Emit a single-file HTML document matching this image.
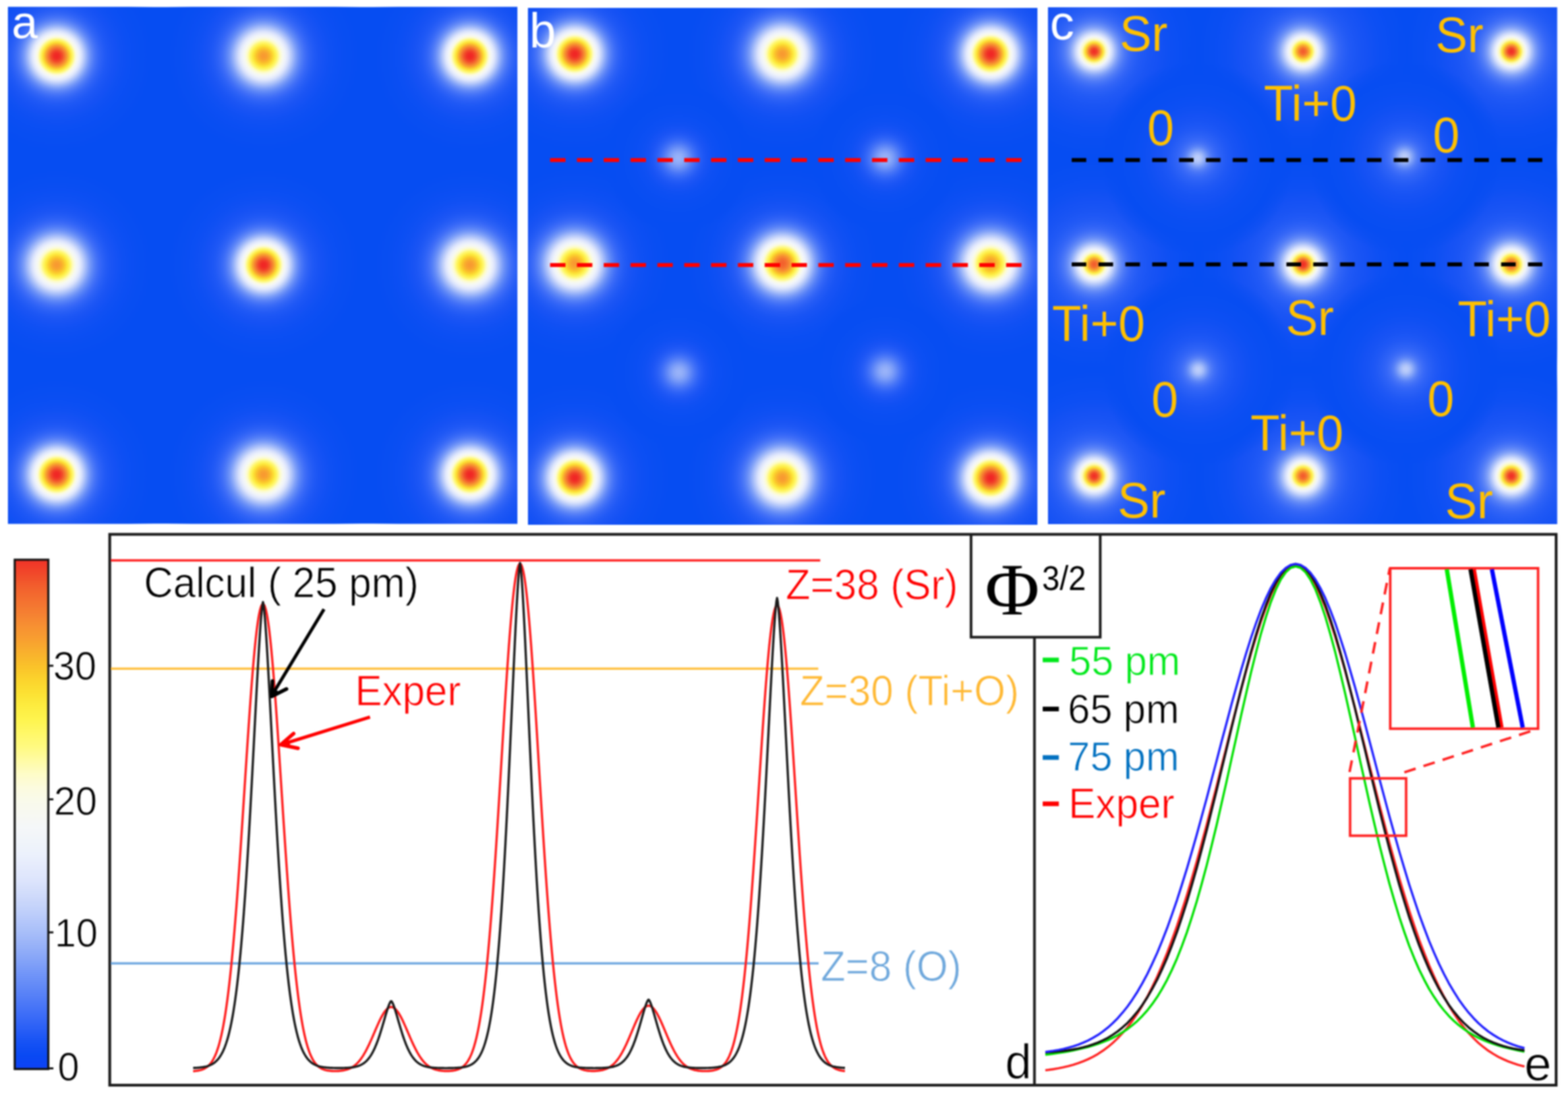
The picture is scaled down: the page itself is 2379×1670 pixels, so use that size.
<!DOCTYPE html>
<html><head><meta charset="utf-8"><title>Figure</title>
<style>html,body{margin:0;padding:0;background:#fff;}svg{display:block;}</style>
</head><body>
<svg width="2379" height="1670" viewBox="0 0 2379 1670"><defs><radialGradient id="g1"><stop offset="0.000" stop-color="#f02424" stop-opacity="1.000"/><stop offset="0.025" stop-color="#f02b26" stop-opacity="1.000"/><stop offset="0.050" stop-color="#f1482a" stop-opacity="1.000"/><stop offset="0.075" stop-color="#f47531" stop-opacity="1.000"/><stop offset="0.100" stop-color="#f8a62f" stop-opacity="1.000"/><stop offset="0.125" stop-color="#fcdf32" stop-opacity="1.000"/><stop offset="0.150" stop-color="#fff973" stop-opacity="1.000"/><stop offset="0.175" stop-color="#fcfbdf" stop-opacity="1.000"/><stop offset="0.200" stop-color="#f2f5fa" stop-opacity="1.000"/><stop offset="0.225" stop-color="#dee6fc" stop-opacity="1.000"/><stop offset="0.250" stop-color="#bccdfa" stop-opacity="1.000"/><stop offset="0.275" stop-color="#97b2f9" stop-opacity="1.000"/><stop offset="0.300" stop-color="#7699f8" stop-opacity="1.000"/><stop offset="0.325" stop-color="#5d85f7" stop-opacity="1.000"/><stop offset="0.350" stop-color="#4976f7" stop-opacity="1.000"/><stop offset="0.375" stop-color="#3a6bf7" stop-opacity="1.000"/><stop offset="0.400" stop-color="#2f63f6" stop-opacity="1.000"/><stop offset="0.425" stop-color="#275df6" stop-opacity="1.000"/><stop offset="0.450" stop-color="#2059f5" stop-opacity="1.000"/><stop offset="0.475" stop-color="#1c56f5" stop-opacity="1.000"/><stop offset="0.500" stop-color="#1954f4" stop-opacity="1.000"/><stop offset="0.525" stop-color="#1652f4" stop-opacity="1.000"/><stop offset="0.550" stop-color="#1451f4" stop-opacity="1.000"/><stop offset="0.575" stop-color="#1151f3" stop-opacity="1.000"/><stop offset="0.600" stop-color="#0f50f3" stop-opacity="1.000"/><stop offset="0.625" stop-color="#0e4ff3" stop-opacity="1.000"/><stop offset="0.650" stop-color="#0c4ff3" stop-opacity="1.000"/><stop offset="0.675" stop-color="#0b4ff3" stop-opacity="1.000"/><stop offset="0.700" stop-color="#0a4ef3" stop-opacity="1.000"/><stop offset="0.725" stop-color="#0a4ef2" stop-opacity="1.000"/><stop offset="0.750" stop-color="#094ef2" stop-opacity="1.000"/><stop offset="0.775" stop-color="#084ef2" stop-opacity="1.000"/><stop offset="0.800" stop-color="#084ef2" stop-opacity="1.000"/><stop offset="0.825" stop-color="#084df2" stop-opacity="0.875"/><stop offset="0.850" stop-color="#074df2" stop-opacity="0.750"/><stop offset="0.875" stop-color="#074df2" stop-opacity="0.625"/><stop offset="0.900" stop-color="#074df2" stop-opacity="0.500"/><stop offset="0.925" stop-color="#074df2" stop-opacity="0.375"/><stop offset="0.950" stop-color="#064df2" stop-opacity="0.250"/><stop offset="0.975" stop-color="#064df2" stop-opacity="0.125"/><stop offset="1.000" stop-color="#064df2" stop-opacity="0.000"/></radialGradient><radialGradient id="g2"><stop offset="0.000" stop-color="#f89831" stop-opacity="1.000"/><stop offset="0.025" stop-color="#f89e30" stop-opacity="1.000"/><stop offset="0.050" stop-color="#f9b02d" stop-opacity="1.000"/><stop offset="0.075" stop-color="#fbcc2c" stop-opacity="1.000"/><stop offset="0.100" stop-color="#fdea3d" stop-opacity="1.000"/><stop offset="0.125" stop-color="#fff86f" stop-opacity="1.000"/><stop offset="0.150" stop-color="#fefcc7" stop-opacity="1.000"/><stop offset="0.175" stop-color="#f7f9f1" stop-opacity="1.000"/><stop offset="0.200" stop-color="#eef2fb" stop-opacity="1.000"/><stop offset="0.225" stop-color="#dbe3fc" stop-opacity="1.000"/><stop offset="0.250" stop-color="#bccdfa" stop-opacity="1.000"/><stop offset="0.275" stop-color="#9db6f9" stop-opacity="1.000"/><stop offset="0.300" stop-color="#7e9ff8" stop-opacity="1.000"/><stop offset="0.325" stop-color="#658cf7" stop-opacity="1.000"/><stop offset="0.350" stop-color="#517df7" stop-opacity="1.000"/><stop offset="0.375" stop-color="#4270f7" stop-opacity="1.000"/><stop offset="0.400" stop-color="#3667f7" stop-opacity="1.000"/><stop offset="0.425" stop-color="#2c61f6" stop-opacity="1.000"/><stop offset="0.450" stop-color="#255cf5" stop-opacity="1.000"/><stop offset="0.475" stop-color="#1f58f5" stop-opacity="1.000"/><stop offset="0.500" stop-color="#1b55f4" stop-opacity="1.000"/><stop offset="0.525" stop-color="#1853f4" stop-opacity="1.000"/><stop offset="0.550" stop-color="#1552f4" stop-opacity="1.000"/><stop offset="0.575" stop-color="#1251f4" stop-opacity="1.000"/><stop offset="0.600" stop-color="#1050f3" stop-opacity="1.000"/><stop offset="0.625" stop-color="#0e50f3" stop-opacity="1.000"/><stop offset="0.650" stop-color="#0d4ff3" stop-opacity="1.000"/><stop offset="0.675" stop-color="#0b4ff3" stop-opacity="1.000"/><stop offset="0.700" stop-color="#0b4ef3" stop-opacity="1.000"/><stop offset="0.725" stop-color="#0a4ef2" stop-opacity="1.000"/><stop offset="0.750" stop-color="#094ef2" stop-opacity="1.000"/><stop offset="0.775" stop-color="#084ef2" stop-opacity="1.000"/><stop offset="0.800" stop-color="#084ef2" stop-opacity="1.000"/><stop offset="0.825" stop-color="#084df2" stop-opacity="0.875"/><stop offset="0.850" stop-color="#074df2" stop-opacity="0.750"/><stop offset="0.875" stop-color="#074df2" stop-opacity="0.625"/><stop offset="0.900" stop-color="#074df2" stop-opacity="0.500"/><stop offset="0.925" stop-color="#074df2" stop-opacity="0.375"/><stop offset="0.950" stop-color="#064df2" stop-opacity="0.250"/><stop offset="0.975" stop-color="#064df2" stop-opacity="0.125"/><stop offset="1.000" stop-color="#064df2" stop-opacity="0.000"/></radialGradient><radialGradient id="g3"><stop offset="0.000" stop-color="#f02424" stop-opacity="1.000"/><stop offset="0.025" stop-color="#f02b26" stop-opacity="1.000"/><stop offset="0.050" stop-color="#f1482a" stop-opacity="1.000"/><stop offset="0.075" stop-color="#f47531" stop-opacity="1.000"/><stop offset="0.100" stop-color="#f8a62f" stop-opacity="1.000"/><stop offset="0.125" stop-color="#fcdf32" stop-opacity="1.000"/><stop offset="0.150" stop-color="#fff973" stop-opacity="1.000"/><stop offset="0.175" stop-color="#fcfbdf" stop-opacity="1.000"/><stop offset="0.200" stop-color="#f2f5fa" stop-opacity="1.000"/><stop offset="0.225" stop-color="#dee6fc" stop-opacity="1.000"/><stop offset="0.250" stop-color="#bccdfa" stop-opacity="1.000"/><stop offset="0.275" stop-color="#97b2f9" stop-opacity="1.000"/><stop offset="0.300" stop-color="#7699f8" stop-opacity="1.000"/><stop offset="0.325" stop-color="#5d85f7" stop-opacity="1.000"/><stop offset="0.350" stop-color="#4976f7" stop-opacity="1.000"/><stop offset="0.375" stop-color="#3a6bf7" stop-opacity="1.000"/><stop offset="0.400" stop-color="#2f63f6" stop-opacity="1.000"/><stop offset="0.425" stop-color="#275df6" stop-opacity="1.000"/><stop offset="0.450" stop-color="#2059f5" stop-opacity="1.000"/><stop offset="0.475" stop-color="#1c56f5" stop-opacity="1.000"/><stop offset="0.500" stop-color="#1954f4" stop-opacity="1.000"/><stop offset="0.525" stop-color="#1652f4" stop-opacity="1.000"/><stop offset="0.550" stop-color="#1451f4" stop-opacity="1.000"/><stop offset="0.575" stop-color="#1151f3" stop-opacity="1.000"/><stop offset="0.600" stop-color="#0f50f3" stop-opacity="1.000"/><stop offset="0.625" stop-color="#0e4ff3" stop-opacity="1.000"/><stop offset="0.650" stop-color="#0c4ff3" stop-opacity="1.000"/><stop offset="0.675" stop-color="#0b4ff3" stop-opacity="1.000"/><stop offset="0.700" stop-color="#0a4ef3" stop-opacity="1.000"/><stop offset="0.725" stop-color="#0a4ef2" stop-opacity="1.000"/><stop offset="0.750" stop-color="#094ef2" stop-opacity="1.000"/><stop offset="0.775" stop-color="#084ef2" stop-opacity="1.000"/><stop offset="0.800" stop-color="#084ef2" stop-opacity="1.000"/><stop offset="0.825" stop-color="#084df2" stop-opacity="0.875"/><stop offset="0.850" stop-color="#074df2" stop-opacity="0.750"/><stop offset="0.875" stop-color="#074df2" stop-opacity="0.625"/><stop offset="0.900" stop-color="#074df2" stop-opacity="0.500"/><stop offset="0.925" stop-color="#074df2" stop-opacity="0.375"/><stop offset="0.950" stop-color="#064df2" stop-opacity="0.250"/><stop offset="0.975" stop-color="#064df2" stop-opacity="0.125"/><stop offset="1.000" stop-color="#064df2" stop-opacity="0.000"/></radialGradient><radialGradient id="g4"><stop offset="0.000" stop-color="#f89831" stop-opacity="1.000"/><stop offset="0.025" stop-color="#f89e30" stop-opacity="1.000"/><stop offset="0.050" stop-color="#f9b02d" stop-opacity="1.000"/><stop offset="0.075" stop-color="#fbcc2c" stop-opacity="1.000"/><stop offset="0.100" stop-color="#fdea3d" stop-opacity="1.000"/><stop offset="0.125" stop-color="#fff86f" stop-opacity="1.000"/><stop offset="0.150" stop-color="#fefcc7" stop-opacity="1.000"/><stop offset="0.175" stop-color="#f7f9f1" stop-opacity="1.000"/><stop offset="0.200" stop-color="#eef2fb" stop-opacity="1.000"/><stop offset="0.225" stop-color="#dbe3fc" stop-opacity="1.000"/><stop offset="0.250" stop-color="#bccdfa" stop-opacity="1.000"/><stop offset="0.275" stop-color="#9db6f9" stop-opacity="1.000"/><stop offset="0.300" stop-color="#7e9ff8" stop-opacity="1.000"/><stop offset="0.325" stop-color="#658cf7" stop-opacity="1.000"/><stop offset="0.350" stop-color="#517df7" stop-opacity="1.000"/><stop offset="0.375" stop-color="#4270f7" stop-opacity="1.000"/><stop offset="0.400" stop-color="#3667f7" stop-opacity="1.000"/><stop offset="0.425" stop-color="#2c61f6" stop-opacity="1.000"/><stop offset="0.450" stop-color="#255cf5" stop-opacity="1.000"/><stop offset="0.475" stop-color="#1f58f5" stop-opacity="1.000"/><stop offset="0.500" stop-color="#1b55f4" stop-opacity="1.000"/><stop offset="0.525" stop-color="#1853f4" stop-opacity="1.000"/><stop offset="0.550" stop-color="#1552f4" stop-opacity="1.000"/><stop offset="0.575" stop-color="#1251f4" stop-opacity="1.000"/><stop offset="0.600" stop-color="#1050f3" stop-opacity="1.000"/><stop offset="0.625" stop-color="#0e50f3" stop-opacity="1.000"/><stop offset="0.650" stop-color="#0d4ff3" stop-opacity="1.000"/><stop offset="0.675" stop-color="#0b4ff3" stop-opacity="1.000"/><stop offset="0.700" stop-color="#0b4ef3" stop-opacity="1.000"/><stop offset="0.725" stop-color="#0a4ef2" stop-opacity="1.000"/><stop offset="0.750" stop-color="#094ef2" stop-opacity="1.000"/><stop offset="0.775" stop-color="#084ef2" stop-opacity="1.000"/><stop offset="0.800" stop-color="#084ef2" stop-opacity="1.000"/><stop offset="0.825" stop-color="#084df2" stop-opacity="0.875"/><stop offset="0.850" stop-color="#074df2" stop-opacity="0.750"/><stop offset="0.875" stop-color="#074df2" stop-opacity="0.625"/><stop offset="0.900" stop-color="#074df2" stop-opacity="0.500"/><stop offset="0.925" stop-color="#074df2" stop-opacity="0.375"/><stop offset="0.950" stop-color="#064df2" stop-opacity="0.250"/><stop offset="0.975" stop-color="#064df2" stop-opacity="0.125"/><stop offset="1.000" stop-color="#064df2" stop-opacity="0.000"/></radialGradient><radialGradient id="g5"><stop offset="0.000" stop-color="#f02424" stop-opacity="1.000"/><stop offset="0.025" stop-color="#f02b26" stop-opacity="1.000"/><stop offset="0.050" stop-color="#f1482a" stop-opacity="1.000"/><stop offset="0.075" stop-color="#f47531" stop-opacity="1.000"/><stop offset="0.100" stop-color="#f8a62f" stop-opacity="1.000"/><stop offset="0.125" stop-color="#fcdf32" stop-opacity="1.000"/><stop offset="0.150" stop-color="#fff973" stop-opacity="1.000"/><stop offset="0.175" stop-color="#fcfbdf" stop-opacity="1.000"/><stop offset="0.200" stop-color="#f2f5fa" stop-opacity="1.000"/><stop offset="0.225" stop-color="#dee6fc" stop-opacity="1.000"/><stop offset="0.250" stop-color="#bccdfa" stop-opacity="1.000"/><stop offset="0.275" stop-color="#97b2f9" stop-opacity="1.000"/><stop offset="0.300" stop-color="#7699f8" stop-opacity="1.000"/><stop offset="0.325" stop-color="#5d85f7" stop-opacity="1.000"/><stop offset="0.350" stop-color="#4976f7" stop-opacity="1.000"/><stop offset="0.375" stop-color="#3a6bf7" stop-opacity="1.000"/><stop offset="0.400" stop-color="#2f63f6" stop-opacity="1.000"/><stop offset="0.425" stop-color="#275df6" stop-opacity="1.000"/><stop offset="0.450" stop-color="#2059f5" stop-opacity="1.000"/><stop offset="0.475" stop-color="#1c56f5" stop-opacity="1.000"/><stop offset="0.500" stop-color="#1954f4" stop-opacity="1.000"/><stop offset="0.525" stop-color="#1652f4" stop-opacity="1.000"/><stop offset="0.550" stop-color="#1451f4" stop-opacity="1.000"/><stop offset="0.575" stop-color="#1151f3" stop-opacity="1.000"/><stop offset="0.600" stop-color="#0f50f3" stop-opacity="1.000"/><stop offset="0.625" stop-color="#0e4ff3" stop-opacity="1.000"/><stop offset="0.650" stop-color="#0c4ff3" stop-opacity="1.000"/><stop offset="0.675" stop-color="#0b4ff3" stop-opacity="1.000"/><stop offset="0.700" stop-color="#0a4ef3" stop-opacity="1.000"/><stop offset="0.725" stop-color="#0a4ef2" stop-opacity="1.000"/><stop offset="0.750" stop-color="#094ef2" stop-opacity="1.000"/><stop offset="0.775" stop-color="#084ef2" stop-opacity="1.000"/><stop offset="0.800" stop-color="#084ef2" stop-opacity="1.000"/><stop offset="0.825" stop-color="#084df2" stop-opacity="0.875"/><stop offset="0.850" stop-color="#074df2" stop-opacity="0.750"/><stop offset="0.875" stop-color="#074df2" stop-opacity="0.625"/><stop offset="0.900" stop-color="#074df2" stop-opacity="0.500"/><stop offset="0.925" stop-color="#074df2" stop-opacity="0.375"/><stop offset="0.950" stop-color="#064df2" stop-opacity="0.250"/><stop offset="0.975" stop-color="#064df2" stop-opacity="0.125"/><stop offset="1.000" stop-color="#064df2" stop-opacity="0.000"/></radialGradient><radialGradient id="g6"><stop offset="0.000" stop-color="#f89831" stop-opacity="1.000"/><stop offset="0.025" stop-color="#f89e30" stop-opacity="1.000"/><stop offset="0.050" stop-color="#f9b02d" stop-opacity="1.000"/><stop offset="0.075" stop-color="#fbcc2c" stop-opacity="1.000"/><stop offset="0.100" stop-color="#fdea3d" stop-opacity="1.000"/><stop offset="0.125" stop-color="#fff86f" stop-opacity="1.000"/><stop offset="0.150" stop-color="#fefcc7" stop-opacity="1.000"/><stop offset="0.175" stop-color="#f7f9f1" stop-opacity="1.000"/><stop offset="0.200" stop-color="#eef2fb" stop-opacity="1.000"/><stop offset="0.225" stop-color="#dbe3fc" stop-opacity="1.000"/><stop offset="0.250" stop-color="#bccdfa" stop-opacity="1.000"/><stop offset="0.275" stop-color="#9db6f9" stop-opacity="1.000"/><stop offset="0.300" stop-color="#7e9ff8" stop-opacity="1.000"/><stop offset="0.325" stop-color="#658cf7" stop-opacity="1.000"/><stop offset="0.350" stop-color="#517df7" stop-opacity="1.000"/><stop offset="0.375" stop-color="#4270f7" stop-opacity="1.000"/><stop offset="0.400" stop-color="#3667f7" stop-opacity="1.000"/><stop offset="0.425" stop-color="#2c61f6" stop-opacity="1.000"/><stop offset="0.450" stop-color="#255cf5" stop-opacity="1.000"/><stop offset="0.475" stop-color="#1f58f5" stop-opacity="1.000"/><stop offset="0.500" stop-color="#1b55f4" stop-opacity="1.000"/><stop offset="0.525" stop-color="#1853f4" stop-opacity="1.000"/><stop offset="0.550" stop-color="#1552f4" stop-opacity="1.000"/><stop offset="0.575" stop-color="#1251f4" stop-opacity="1.000"/><stop offset="0.600" stop-color="#1050f3" stop-opacity="1.000"/><stop offset="0.625" stop-color="#0e50f3" stop-opacity="1.000"/><stop offset="0.650" stop-color="#0d4ff3" stop-opacity="1.000"/><stop offset="0.675" stop-color="#0b4ff3" stop-opacity="1.000"/><stop offset="0.700" stop-color="#0b4ef3" stop-opacity="1.000"/><stop offset="0.725" stop-color="#0a4ef2" stop-opacity="1.000"/><stop offset="0.750" stop-color="#094ef2" stop-opacity="1.000"/><stop offset="0.775" stop-color="#084ef2" stop-opacity="1.000"/><stop offset="0.800" stop-color="#084ef2" stop-opacity="1.000"/><stop offset="0.825" stop-color="#084df2" stop-opacity="0.875"/><stop offset="0.850" stop-color="#074df2" stop-opacity="0.750"/><stop offset="0.875" stop-color="#074df2" stop-opacity="0.625"/><stop offset="0.900" stop-color="#074df2" stop-opacity="0.500"/><stop offset="0.925" stop-color="#074df2" stop-opacity="0.375"/><stop offset="0.950" stop-color="#064df2" stop-opacity="0.250"/><stop offset="0.975" stop-color="#064df2" stop-opacity="0.125"/><stop offset="1.000" stop-color="#064df2" stop-opacity="0.000"/></radialGradient><radialGradient id="g7"><stop offset="0.000" stop-color="#f02424" stop-opacity="1.000"/><stop offset="0.025" stop-color="#f02b26" stop-opacity="1.000"/><stop offset="0.050" stop-color="#f1482a" stop-opacity="1.000"/><stop offset="0.075" stop-color="#f47531" stop-opacity="1.000"/><stop offset="0.100" stop-color="#f8a62f" stop-opacity="1.000"/><stop offset="0.125" stop-color="#fcdf32" stop-opacity="1.000"/><stop offset="0.150" stop-color="#fff973" stop-opacity="1.000"/><stop offset="0.175" stop-color="#fcfbdf" stop-opacity="1.000"/><stop offset="0.200" stop-color="#f2f5fa" stop-opacity="1.000"/><stop offset="0.225" stop-color="#dee6fc" stop-opacity="1.000"/><stop offset="0.250" stop-color="#bccdfa" stop-opacity="1.000"/><stop offset="0.275" stop-color="#97b2f9" stop-opacity="1.000"/><stop offset="0.300" stop-color="#7699f8" stop-opacity="1.000"/><stop offset="0.325" stop-color="#5d85f7" stop-opacity="1.000"/><stop offset="0.350" stop-color="#4976f7" stop-opacity="1.000"/><stop offset="0.375" stop-color="#3a6bf7" stop-opacity="1.000"/><stop offset="0.400" stop-color="#2f63f6" stop-opacity="1.000"/><stop offset="0.425" stop-color="#275df6" stop-opacity="1.000"/><stop offset="0.450" stop-color="#2059f5" stop-opacity="1.000"/><stop offset="0.475" stop-color="#1c56f5" stop-opacity="1.000"/><stop offset="0.500" stop-color="#1954f4" stop-opacity="1.000"/><stop offset="0.525" stop-color="#1652f4" stop-opacity="1.000"/><stop offset="0.550" stop-color="#1451f4" stop-opacity="1.000"/><stop offset="0.575" stop-color="#1151f3" stop-opacity="1.000"/><stop offset="0.600" stop-color="#0f50f3" stop-opacity="1.000"/><stop offset="0.625" stop-color="#0e4ff3" stop-opacity="1.000"/><stop offset="0.650" stop-color="#0c4ff3" stop-opacity="1.000"/><stop offset="0.675" stop-color="#0b4ff3" stop-opacity="1.000"/><stop offset="0.700" stop-color="#0a4ef3" stop-opacity="1.000"/><stop offset="0.725" stop-color="#0a4ef2" stop-opacity="1.000"/><stop offset="0.750" stop-color="#094ef2" stop-opacity="1.000"/><stop offset="0.775" stop-color="#084ef2" stop-opacity="1.000"/><stop offset="0.800" stop-color="#084ef2" stop-opacity="1.000"/><stop offset="0.825" stop-color="#084df2" stop-opacity="0.875"/><stop offset="0.850" stop-color="#074df2" stop-opacity="0.750"/><stop offset="0.875" stop-color="#074df2" stop-opacity="0.625"/><stop offset="0.900" stop-color="#074df2" stop-opacity="0.500"/><stop offset="0.925" stop-color="#074df2" stop-opacity="0.375"/><stop offset="0.950" stop-color="#064df2" stop-opacity="0.250"/><stop offset="0.975" stop-color="#064df2" stop-opacity="0.125"/><stop offset="1.000" stop-color="#064df2" stop-opacity="0.000"/></radialGradient><radialGradient id="g8"><stop offset="0.000" stop-color="#f89831" stop-opacity="1.000"/><stop offset="0.025" stop-color="#f89e30" stop-opacity="1.000"/><stop offset="0.050" stop-color="#f9b02d" stop-opacity="1.000"/><stop offset="0.075" stop-color="#fbcc2c" stop-opacity="1.000"/><stop offset="0.100" stop-color="#fdea3d" stop-opacity="1.000"/><stop offset="0.125" stop-color="#fff86f" stop-opacity="1.000"/><stop offset="0.150" stop-color="#fefcc7" stop-opacity="1.000"/><stop offset="0.175" stop-color="#f7f9f1" stop-opacity="1.000"/><stop offset="0.200" stop-color="#eef2fb" stop-opacity="1.000"/><stop offset="0.225" stop-color="#dbe3fc" stop-opacity="1.000"/><stop offset="0.250" stop-color="#bccdfa" stop-opacity="1.000"/><stop offset="0.275" stop-color="#9db6f9" stop-opacity="1.000"/><stop offset="0.300" stop-color="#7e9ff8" stop-opacity="1.000"/><stop offset="0.325" stop-color="#658cf7" stop-opacity="1.000"/><stop offset="0.350" stop-color="#517df7" stop-opacity="1.000"/><stop offset="0.375" stop-color="#4270f7" stop-opacity="1.000"/><stop offset="0.400" stop-color="#3667f7" stop-opacity="1.000"/><stop offset="0.425" stop-color="#2c61f6" stop-opacity="1.000"/><stop offset="0.450" stop-color="#255cf5" stop-opacity="1.000"/><stop offset="0.475" stop-color="#1f58f5" stop-opacity="1.000"/><stop offset="0.500" stop-color="#1b55f4" stop-opacity="1.000"/><stop offset="0.525" stop-color="#1853f4" stop-opacity="1.000"/><stop offset="0.550" stop-color="#1552f4" stop-opacity="1.000"/><stop offset="0.575" stop-color="#1251f4" stop-opacity="1.000"/><stop offset="0.600" stop-color="#1050f3" stop-opacity="1.000"/><stop offset="0.625" stop-color="#0e50f3" stop-opacity="1.000"/><stop offset="0.650" stop-color="#0d4ff3" stop-opacity="1.000"/><stop offset="0.675" stop-color="#0b4ff3" stop-opacity="1.000"/><stop offset="0.700" stop-color="#0b4ef3" stop-opacity="1.000"/><stop offset="0.725" stop-color="#0a4ef2" stop-opacity="1.000"/><stop offset="0.750" stop-color="#094ef2" stop-opacity="1.000"/><stop offset="0.775" stop-color="#084ef2" stop-opacity="1.000"/><stop offset="0.800" stop-color="#084ef2" stop-opacity="1.000"/><stop offset="0.825" stop-color="#084df2" stop-opacity="0.875"/><stop offset="0.850" stop-color="#074df2" stop-opacity="0.750"/><stop offset="0.875" stop-color="#074df2" stop-opacity="0.625"/><stop offset="0.900" stop-color="#074df2" stop-opacity="0.500"/><stop offset="0.925" stop-color="#074df2" stop-opacity="0.375"/><stop offset="0.950" stop-color="#064df2" stop-opacity="0.250"/><stop offset="0.975" stop-color="#064df2" stop-opacity="0.125"/><stop offset="1.000" stop-color="#064df2" stop-opacity="0.000"/></radialGradient><radialGradient id="g9"><stop offset="0.000" stop-color="#f02424" stop-opacity="1.000"/><stop offset="0.025" stop-color="#f02b26" stop-opacity="1.000"/><stop offset="0.050" stop-color="#f1482a" stop-opacity="1.000"/><stop offset="0.075" stop-color="#f47531" stop-opacity="1.000"/><stop offset="0.100" stop-color="#f8a62f" stop-opacity="1.000"/><stop offset="0.125" stop-color="#fcdf32" stop-opacity="1.000"/><stop offset="0.150" stop-color="#fff973" stop-opacity="1.000"/><stop offset="0.175" stop-color="#fcfbdf" stop-opacity="1.000"/><stop offset="0.200" stop-color="#f2f5fa" stop-opacity="1.000"/><stop offset="0.225" stop-color="#dee6fc" stop-opacity="1.000"/><stop offset="0.250" stop-color="#bccdfa" stop-opacity="1.000"/><stop offset="0.275" stop-color="#97b2f9" stop-opacity="1.000"/><stop offset="0.300" stop-color="#7699f8" stop-opacity="1.000"/><stop offset="0.325" stop-color="#5d85f7" stop-opacity="1.000"/><stop offset="0.350" stop-color="#4976f7" stop-opacity="1.000"/><stop offset="0.375" stop-color="#3a6bf7" stop-opacity="1.000"/><stop offset="0.400" stop-color="#2f63f6" stop-opacity="1.000"/><stop offset="0.425" stop-color="#275df6" stop-opacity="1.000"/><stop offset="0.450" stop-color="#2059f5" stop-opacity="1.000"/><stop offset="0.475" stop-color="#1c56f5" stop-opacity="1.000"/><stop offset="0.500" stop-color="#1954f4" stop-opacity="1.000"/><stop offset="0.525" stop-color="#1652f4" stop-opacity="1.000"/><stop offset="0.550" stop-color="#1451f4" stop-opacity="1.000"/><stop offset="0.575" stop-color="#1151f3" stop-opacity="1.000"/><stop offset="0.600" stop-color="#0f50f3" stop-opacity="1.000"/><stop offset="0.625" stop-color="#0e4ff3" stop-opacity="1.000"/><stop offset="0.650" stop-color="#0c4ff3" stop-opacity="1.000"/><stop offset="0.675" stop-color="#0b4ff3" stop-opacity="1.000"/><stop offset="0.700" stop-color="#0a4ef3" stop-opacity="1.000"/><stop offset="0.725" stop-color="#0a4ef2" stop-opacity="1.000"/><stop offset="0.750" stop-color="#094ef2" stop-opacity="1.000"/><stop offset="0.775" stop-color="#084ef2" stop-opacity="1.000"/><stop offset="0.800" stop-color="#084ef2" stop-opacity="1.000"/><stop offset="0.825" stop-color="#084df2" stop-opacity="0.875"/><stop offset="0.850" stop-color="#074df2" stop-opacity="0.750"/><stop offset="0.875" stop-color="#074df2" stop-opacity="0.625"/><stop offset="0.900" stop-color="#074df2" stop-opacity="0.500"/><stop offset="0.925" stop-color="#074df2" stop-opacity="0.375"/><stop offset="0.950" stop-color="#064df2" stop-opacity="0.250"/><stop offset="0.975" stop-color="#064df2" stop-opacity="0.125"/><stop offset="1.000" stop-color="#064df2" stop-opacity="0.000"/></radialGradient><radialGradient id="g10"><stop offset="0.000" stop-color="#f02424" stop-opacity="1.000"/><stop offset="0.025" stop-color="#f02b26" stop-opacity="1.000"/><stop offset="0.050" stop-color="#f1482a" stop-opacity="1.000"/><stop offset="0.075" stop-color="#f47531" stop-opacity="1.000"/><stop offset="0.100" stop-color="#f8a62f" stop-opacity="1.000"/><stop offset="0.125" stop-color="#fcdf32" stop-opacity="1.000"/><stop offset="0.150" stop-color="#fff973" stop-opacity="1.000"/><stop offset="0.175" stop-color="#fcfbdf" stop-opacity="1.000"/><stop offset="0.200" stop-color="#f2f5fa" stop-opacity="1.000"/><stop offset="0.225" stop-color="#dee6fc" stop-opacity="1.000"/><stop offset="0.250" stop-color="#bccdfa" stop-opacity="1.000"/><stop offset="0.275" stop-color="#97b2f9" stop-opacity="1.000"/><stop offset="0.300" stop-color="#7699f8" stop-opacity="1.000"/><stop offset="0.325" stop-color="#5d85f7" stop-opacity="1.000"/><stop offset="0.350" stop-color="#4976f7" stop-opacity="1.000"/><stop offset="0.375" stop-color="#3a6bf7" stop-opacity="1.000"/><stop offset="0.400" stop-color="#2f63f6" stop-opacity="1.000"/><stop offset="0.425" stop-color="#275df6" stop-opacity="1.000"/><stop offset="0.450" stop-color="#2059f5" stop-opacity="1.000"/><stop offset="0.475" stop-color="#1c56f5" stop-opacity="1.000"/><stop offset="0.500" stop-color="#1954f4" stop-opacity="1.000"/><stop offset="0.525" stop-color="#1652f4" stop-opacity="1.000"/><stop offset="0.550" stop-color="#1451f4" stop-opacity="1.000"/><stop offset="0.575" stop-color="#1151f3" stop-opacity="1.000"/><stop offset="0.600" stop-color="#0f50f3" stop-opacity="1.000"/><stop offset="0.625" stop-color="#0e4ff3" stop-opacity="1.000"/><stop offset="0.650" stop-color="#0c4ff3" stop-opacity="1.000"/><stop offset="0.675" stop-color="#0b4ff3" stop-opacity="1.000"/><stop offset="0.700" stop-color="#0a4ef3" stop-opacity="1.000"/><stop offset="0.725" stop-color="#0a4ef2" stop-opacity="1.000"/><stop offset="0.750" stop-color="#094ef2" stop-opacity="1.000"/><stop offset="0.775" stop-color="#084ef2" stop-opacity="1.000"/><stop offset="0.800" stop-color="#084ef2" stop-opacity="1.000"/><stop offset="0.825" stop-color="#084df2" stop-opacity="0.875"/><stop offset="0.850" stop-color="#074df2" stop-opacity="0.750"/><stop offset="0.875" stop-color="#074df2" stop-opacity="0.625"/><stop offset="0.900" stop-color="#074df2" stop-opacity="0.500"/><stop offset="0.925" stop-color="#074df2" stop-opacity="0.375"/><stop offset="0.950" stop-color="#064df2" stop-opacity="0.250"/><stop offset="0.975" stop-color="#064df2" stop-opacity="0.125"/><stop offset="1.000" stop-color="#064df2" stop-opacity="0.000"/></radialGradient><radialGradient id="g11"><stop offset="0.000" stop-color="#f89831" stop-opacity="1.000"/><stop offset="0.025" stop-color="#f89e30" stop-opacity="1.000"/><stop offset="0.050" stop-color="#f9b02d" stop-opacity="1.000"/><stop offset="0.075" stop-color="#fbcc2c" stop-opacity="1.000"/><stop offset="0.100" stop-color="#fdea3d" stop-opacity="1.000"/><stop offset="0.125" stop-color="#fff86f" stop-opacity="1.000"/><stop offset="0.150" stop-color="#fefcc7" stop-opacity="1.000"/><stop offset="0.175" stop-color="#f7f9f1" stop-opacity="1.000"/><stop offset="0.200" stop-color="#eef2fb" stop-opacity="1.000"/><stop offset="0.225" stop-color="#dbe3fc" stop-opacity="1.000"/><stop offset="0.250" stop-color="#bccdfa" stop-opacity="1.000"/><stop offset="0.275" stop-color="#9db6f9" stop-opacity="1.000"/><stop offset="0.300" stop-color="#7e9ff8" stop-opacity="1.000"/><stop offset="0.325" stop-color="#658cf7" stop-opacity="1.000"/><stop offset="0.350" stop-color="#517df7" stop-opacity="1.000"/><stop offset="0.375" stop-color="#4270f7" stop-opacity="1.000"/><stop offset="0.400" stop-color="#3667f7" stop-opacity="1.000"/><stop offset="0.425" stop-color="#2c61f6" stop-opacity="1.000"/><stop offset="0.450" stop-color="#255cf5" stop-opacity="1.000"/><stop offset="0.475" stop-color="#1f58f5" stop-opacity="1.000"/><stop offset="0.500" stop-color="#1b55f4" stop-opacity="1.000"/><stop offset="0.525" stop-color="#1853f4" stop-opacity="1.000"/><stop offset="0.550" stop-color="#1552f4" stop-opacity="1.000"/><stop offset="0.575" stop-color="#1251f4" stop-opacity="1.000"/><stop offset="0.600" stop-color="#1050f3" stop-opacity="1.000"/><stop offset="0.625" stop-color="#0e50f3" stop-opacity="1.000"/><stop offset="0.650" stop-color="#0d4ff3" stop-opacity="1.000"/><stop offset="0.675" stop-color="#0b4ff3" stop-opacity="1.000"/><stop offset="0.700" stop-color="#0b4ef3" stop-opacity="1.000"/><stop offset="0.725" stop-color="#0a4ef2" stop-opacity="1.000"/><stop offset="0.750" stop-color="#094ef2" stop-opacity="1.000"/><stop offset="0.775" stop-color="#084ef2" stop-opacity="1.000"/><stop offset="0.800" stop-color="#084ef2" stop-opacity="1.000"/><stop offset="0.825" stop-color="#084df2" stop-opacity="0.875"/><stop offset="0.850" stop-color="#074df2" stop-opacity="0.750"/><stop offset="0.875" stop-color="#074df2" stop-opacity="0.625"/><stop offset="0.900" stop-color="#074df2" stop-opacity="0.500"/><stop offset="0.925" stop-color="#074df2" stop-opacity="0.375"/><stop offset="0.950" stop-color="#064df2" stop-opacity="0.250"/><stop offset="0.975" stop-color="#064df2" stop-opacity="0.125"/><stop offset="1.000" stop-color="#064df2" stop-opacity="0.000"/></radialGradient><radialGradient id="g12"><stop offset="0.000" stop-color="#f02424" stop-opacity="1.000"/><stop offset="0.025" stop-color="#f02b26" stop-opacity="1.000"/><stop offset="0.050" stop-color="#f1482a" stop-opacity="1.000"/><stop offset="0.075" stop-color="#f47531" stop-opacity="1.000"/><stop offset="0.100" stop-color="#f8a62f" stop-opacity="1.000"/><stop offset="0.125" stop-color="#fcdf32" stop-opacity="1.000"/><stop offset="0.150" stop-color="#fff973" stop-opacity="1.000"/><stop offset="0.175" stop-color="#fcfbdf" stop-opacity="1.000"/><stop offset="0.200" stop-color="#f2f5fa" stop-opacity="1.000"/><stop offset="0.225" stop-color="#dee6fc" stop-opacity="1.000"/><stop offset="0.250" stop-color="#bccdfa" stop-opacity="1.000"/><stop offset="0.275" stop-color="#97b2f9" stop-opacity="1.000"/><stop offset="0.300" stop-color="#7699f8" stop-opacity="1.000"/><stop offset="0.325" stop-color="#5d85f7" stop-opacity="1.000"/><stop offset="0.350" stop-color="#4976f7" stop-opacity="1.000"/><stop offset="0.375" stop-color="#3a6bf7" stop-opacity="1.000"/><stop offset="0.400" stop-color="#2f63f6" stop-opacity="1.000"/><stop offset="0.425" stop-color="#275df6" stop-opacity="1.000"/><stop offset="0.450" stop-color="#2059f5" stop-opacity="1.000"/><stop offset="0.475" stop-color="#1c56f5" stop-opacity="1.000"/><stop offset="0.500" stop-color="#1954f4" stop-opacity="1.000"/><stop offset="0.525" stop-color="#1652f4" stop-opacity="1.000"/><stop offset="0.550" stop-color="#1451f4" stop-opacity="1.000"/><stop offset="0.575" stop-color="#1151f3" stop-opacity="1.000"/><stop offset="0.600" stop-color="#0f50f3" stop-opacity="1.000"/><stop offset="0.625" stop-color="#0e4ff3" stop-opacity="1.000"/><stop offset="0.650" stop-color="#0c4ff3" stop-opacity="1.000"/><stop offset="0.675" stop-color="#0b4ff3" stop-opacity="1.000"/><stop offset="0.700" stop-color="#0a4ef3" stop-opacity="1.000"/><stop offset="0.725" stop-color="#0a4ef2" stop-opacity="1.000"/><stop offset="0.750" stop-color="#094ef2" stop-opacity="1.000"/><stop offset="0.775" stop-color="#084ef2" stop-opacity="1.000"/><stop offset="0.800" stop-color="#084ef2" stop-opacity="1.000"/><stop offset="0.825" stop-color="#084df2" stop-opacity="0.875"/><stop offset="0.850" stop-color="#074df2" stop-opacity="0.750"/><stop offset="0.875" stop-color="#074df2" stop-opacity="0.625"/><stop offset="0.900" stop-color="#074df2" stop-opacity="0.500"/><stop offset="0.925" stop-color="#074df2" stop-opacity="0.375"/><stop offset="0.950" stop-color="#064df2" stop-opacity="0.250"/><stop offset="0.975" stop-color="#064df2" stop-opacity="0.125"/><stop offset="1.000" stop-color="#064df2" stop-opacity="0.000"/></radialGradient><radialGradient id="g13"><stop offset="0.000" stop-color="#f89831" stop-opacity="1.000"/><stop offset="0.025" stop-color="#f89e30" stop-opacity="1.000"/><stop offset="0.050" stop-color="#f9b02d" stop-opacity="1.000"/><stop offset="0.075" stop-color="#fbcc2c" stop-opacity="1.000"/><stop offset="0.100" stop-color="#fdea3d" stop-opacity="1.000"/><stop offset="0.125" stop-color="#fff86f" stop-opacity="1.000"/><stop offset="0.150" stop-color="#fefcc7" stop-opacity="1.000"/><stop offset="0.175" stop-color="#f7f9f1" stop-opacity="1.000"/><stop offset="0.200" stop-color="#eef2fb" stop-opacity="1.000"/><stop offset="0.225" stop-color="#dbe3fc" stop-opacity="1.000"/><stop offset="0.250" stop-color="#bccdfa" stop-opacity="1.000"/><stop offset="0.275" stop-color="#9db6f9" stop-opacity="1.000"/><stop offset="0.300" stop-color="#7e9ff8" stop-opacity="1.000"/><stop offset="0.325" stop-color="#658cf7" stop-opacity="1.000"/><stop offset="0.350" stop-color="#517df7" stop-opacity="1.000"/><stop offset="0.375" stop-color="#4270f7" stop-opacity="1.000"/><stop offset="0.400" stop-color="#3667f7" stop-opacity="1.000"/><stop offset="0.425" stop-color="#2c61f6" stop-opacity="1.000"/><stop offset="0.450" stop-color="#255cf5" stop-opacity="1.000"/><stop offset="0.475" stop-color="#1f58f5" stop-opacity="1.000"/><stop offset="0.500" stop-color="#1b55f4" stop-opacity="1.000"/><stop offset="0.525" stop-color="#1853f4" stop-opacity="1.000"/><stop offset="0.550" stop-color="#1552f4" stop-opacity="1.000"/><stop offset="0.575" stop-color="#1251f4" stop-opacity="1.000"/><stop offset="0.600" stop-color="#1050f3" stop-opacity="1.000"/><stop offset="0.625" stop-color="#0e50f3" stop-opacity="1.000"/><stop offset="0.650" stop-color="#0d4ff3" stop-opacity="1.000"/><stop offset="0.675" stop-color="#0b4ff3" stop-opacity="1.000"/><stop offset="0.700" stop-color="#0b4ef3" stop-opacity="1.000"/><stop offset="0.725" stop-color="#0a4ef2" stop-opacity="1.000"/><stop offset="0.750" stop-color="#094ef2" stop-opacity="1.000"/><stop offset="0.775" stop-color="#084ef2" stop-opacity="1.000"/><stop offset="0.800" stop-color="#084ef2" stop-opacity="1.000"/><stop offset="0.825" stop-color="#084df2" stop-opacity="0.875"/><stop offset="0.850" stop-color="#074df2" stop-opacity="0.750"/><stop offset="0.875" stop-color="#074df2" stop-opacity="0.625"/><stop offset="0.900" stop-color="#074df2" stop-opacity="0.500"/><stop offset="0.925" stop-color="#074df2" stop-opacity="0.375"/><stop offset="0.950" stop-color="#064df2" stop-opacity="0.250"/><stop offset="0.975" stop-color="#064df2" stop-opacity="0.125"/><stop offset="1.000" stop-color="#064df2" stop-opacity="0.000"/></radialGradient><radialGradient id="g14"><stop offset="0.000" stop-color="#f25f2d" stop-opacity="1.000"/><stop offset="0.025" stop-color="#f3662e" stop-opacity="1.000"/><stop offset="0.050" stop-color="#f57a31" stop-opacity="1.000"/><stop offset="0.075" stop-color="#f89931" stop-opacity="1.000"/><stop offset="0.100" stop-color="#fac42a" stop-opacity="1.000"/><stop offset="0.125" stop-color="#fdec40" stop-opacity="1.000"/><stop offset="0.150" stop-color="#fffa84" stop-opacity="1.000"/><stop offset="0.175" stop-color="#fbfbe1" stop-opacity="1.000"/><stop offset="0.200" stop-color="#f3f6fa" stop-opacity="1.000"/><stop offset="0.225" stop-color="#e2e9fc" stop-opacity="1.000"/><stop offset="0.250" stop-color="#c5d3fa" stop-opacity="1.000"/><stop offset="0.275" stop-color="#a3bbf9" stop-opacity="1.000"/><stop offset="0.300" stop-color="#83a2f8" stop-opacity="1.000"/><stop offset="0.325" stop-color="#688ef7" stop-opacity="1.000"/><stop offset="0.350" stop-color="#527df7" stop-opacity="1.000"/><stop offset="0.375" stop-color="#4271f7" stop-opacity="1.000"/><stop offset="0.400" stop-color="#3567f7" stop-opacity="1.000"/><stop offset="0.425" stop-color="#2c60f6" stop-opacity="1.000"/><stop offset="0.450" stop-color="#245bf5" stop-opacity="1.000"/><stop offset="0.475" stop-color="#1f58f5" stop-opacity="1.000"/><stop offset="0.500" stop-color="#1a55f4" stop-opacity="1.000"/><stop offset="0.525" stop-color="#1753f4" stop-opacity="1.000"/><stop offset="0.550" stop-color="#1552f4" stop-opacity="1.000"/><stop offset="0.575" stop-color="#1251f3" stop-opacity="1.000"/><stop offset="0.600" stop-color="#1050f3" stop-opacity="1.000"/><stop offset="0.625" stop-color="#0e50f3" stop-opacity="1.000"/><stop offset="0.650" stop-color="#0d4ff3" stop-opacity="1.000"/><stop offset="0.675" stop-color="#0b4ff3" stop-opacity="1.000"/><stop offset="0.700" stop-color="#0a4ef3" stop-opacity="1.000"/><stop offset="0.725" stop-color="#0a4ef2" stop-opacity="1.000"/><stop offset="0.750" stop-color="#094ef2" stop-opacity="1.000"/><stop offset="0.775" stop-color="#084ef2" stop-opacity="1.000"/><stop offset="0.800" stop-color="#084ef2" stop-opacity="1.000"/><stop offset="0.825" stop-color="#084df2" stop-opacity="0.875"/><stop offset="0.850" stop-color="#074df2" stop-opacity="0.750"/><stop offset="0.875" stop-color="#074df2" stop-opacity="0.625"/><stop offset="0.900" stop-color="#074df2" stop-opacity="0.500"/><stop offset="0.925" stop-color="#074df2" stop-opacity="0.375"/><stop offset="0.950" stop-color="#064df2" stop-opacity="0.250"/><stop offset="0.975" stop-color="#064df2" stop-opacity="0.125"/><stop offset="1.000" stop-color="#064df2" stop-opacity="0.000"/></radialGradient><radialGradient id="g15"><stop offset="0.000" stop-color="#f89831" stop-opacity="1.000"/><stop offset="0.025" stop-color="#f89e30" stop-opacity="1.000"/><stop offset="0.050" stop-color="#f9b02d" stop-opacity="1.000"/><stop offset="0.075" stop-color="#fbcc2c" stop-opacity="1.000"/><stop offset="0.100" stop-color="#fdea3d" stop-opacity="1.000"/><stop offset="0.125" stop-color="#fff86f" stop-opacity="1.000"/><stop offset="0.150" stop-color="#fefcc7" stop-opacity="1.000"/><stop offset="0.175" stop-color="#f7f9f1" stop-opacity="1.000"/><stop offset="0.200" stop-color="#eef2fb" stop-opacity="1.000"/><stop offset="0.225" stop-color="#dbe3fc" stop-opacity="1.000"/><stop offset="0.250" stop-color="#bccdfa" stop-opacity="1.000"/><stop offset="0.275" stop-color="#9db6f9" stop-opacity="1.000"/><stop offset="0.300" stop-color="#7e9ff8" stop-opacity="1.000"/><stop offset="0.325" stop-color="#658cf7" stop-opacity="1.000"/><stop offset="0.350" stop-color="#517df7" stop-opacity="1.000"/><stop offset="0.375" stop-color="#4270f7" stop-opacity="1.000"/><stop offset="0.400" stop-color="#3667f7" stop-opacity="1.000"/><stop offset="0.425" stop-color="#2c61f6" stop-opacity="1.000"/><stop offset="0.450" stop-color="#255cf5" stop-opacity="1.000"/><stop offset="0.475" stop-color="#1f58f5" stop-opacity="1.000"/><stop offset="0.500" stop-color="#1b55f4" stop-opacity="1.000"/><stop offset="0.525" stop-color="#1853f4" stop-opacity="1.000"/><stop offset="0.550" stop-color="#1552f4" stop-opacity="1.000"/><stop offset="0.575" stop-color="#1251f4" stop-opacity="1.000"/><stop offset="0.600" stop-color="#1050f3" stop-opacity="1.000"/><stop offset="0.625" stop-color="#0e50f3" stop-opacity="1.000"/><stop offset="0.650" stop-color="#0d4ff3" stop-opacity="1.000"/><stop offset="0.675" stop-color="#0b4ff3" stop-opacity="1.000"/><stop offset="0.700" stop-color="#0b4ef3" stop-opacity="1.000"/><stop offset="0.725" stop-color="#0a4ef2" stop-opacity="1.000"/><stop offset="0.750" stop-color="#094ef2" stop-opacity="1.000"/><stop offset="0.775" stop-color="#084ef2" stop-opacity="1.000"/><stop offset="0.800" stop-color="#084ef2" stop-opacity="1.000"/><stop offset="0.825" stop-color="#084df2" stop-opacity="0.875"/><stop offset="0.850" stop-color="#074df2" stop-opacity="0.750"/><stop offset="0.875" stop-color="#074df2" stop-opacity="0.625"/><stop offset="0.900" stop-color="#074df2" stop-opacity="0.500"/><stop offset="0.925" stop-color="#074df2" stop-opacity="0.375"/><stop offset="0.950" stop-color="#064df2" stop-opacity="0.250"/><stop offset="0.975" stop-color="#064df2" stop-opacity="0.125"/><stop offset="1.000" stop-color="#064df2" stop-opacity="0.000"/></radialGradient><radialGradient id="g16"><stop offset="0.000" stop-color="#f02424" stop-opacity="1.000"/><stop offset="0.025" stop-color="#f02b26" stop-opacity="1.000"/><stop offset="0.050" stop-color="#f1482a" stop-opacity="1.000"/><stop offset="0.075" stop-color="#f47531" stop-opacity="1.000"/><stop offset="0.100" stop-color="#f8a62f" stop-opacity="1.000"/><stop offset="0.125" stop-color="#fcdf32" stop-opacity="1.000"/><stop offset="0.150" stop-color="#fff973" stop-opacity="1.000"/><stop offset="0.175" stop-color="#fcfbdf" stop-opacity="1.000"/><stop offset="0.200" stop-color="#f2f5fa" stop-opacity="1.000"/><stop offset="0.225" stop-color="#dee6fc" stop-opacity="1.000"/><stop offset="0.250" stop-color="#bccdfa" stop-opacity="1.000"/><stop offset="0.275" stop-color="#97b2f9" stop-opacity="1.000"/><stop offset="0.300" stop-color="#7699f8" stop-opacity="1.000"/><stop offset="0.325" stop-color="#5d85f7" stop-opacity="1.000"/><stop offset="0.350" stop-color="#4976f7" stop-opacity="1.000"/><stop offset="0.375" stop-color="#3a6bf7" stop-opacity="1.000"/><stop offset="0.400" stop-color="#2f63f6" stop-opacity="1.000"/><stop offset="0.425" stop-color="#275df6" stop-opacity="1.000"/><stop offset="0.450" stop-color="#2059f5" stop-opacity="1.000"/><stop offset="0.475" stop-color="#1c56f5" stop-opacity="1.000"/><stop offset="0.500" stop-color="#1954f4" stop-opacity="1.000"/><stop offset="0.525" stop-color="#1652f4" stop-opacity="1.000"/><stop offset="0.550" stop-color="#1451f4" stop-opacity="1.000"/><stop offset="0.575" stop-color="#1151f3" stop-opacity="1.000"/><stop offset="0.600" stop-color="#0f50f3" stop-opacity="1.000"/><stop offset="0.625" stop-color="#0e4ff3" stop-opacity="1.000"/><stop offset="0.650" stop-color="#0c4ff3" stop-opacity="1.000"/><stop offset="0.675" stop-color="#0b4ff3" stop-opacity="1.000"/><stop offset="0.700" stop-color="#0a4ef3" stop-opacity="1.000"/><stop offset="0.725" stop-color="#0a4ef2" stop-opacity="1.000"/><stop offset="0.750" stop-color="#094ef2" stop-opacity="1.000"/><stop offset="0.775" stop-color="#084ef2" stop-opacity="1.000"/><stop offset="0.800" stop-color="#084ef2" stop-opacity="1.000"/><stop offset="0.825" stop-color="#084df2" stop-opacity="0.875"/><stop offset="0.850" stop-color="#074df2" stop-opacity="0.750"/><stop offset="0.875" stop-color="#074df2" stop-opacity="0.625"/><stop offset="0.900" stop-color="#074df2" stop-opacity="0.500"/><stop offset="0.925" stop-color="#074df2" stop-opacity="0.375"/><stop offset="0.950" stop-color="#064df2" stop-opacity="0.250"/><stop offset="0.975" stop-color="#064df2" stop-opacity="0.125"/><stop offset="1.000" stop-color="#064df2" stop-opacity="0.000"/></radialGradient><radialGradient id="g17"><stop offset="0.000" stop-color="#f89831" stop-opacity="1.000"/><stop offset="0.025" stop-color="#f89e30" stop-opacity="1.000"/><stop offset="0.050" stop-color="#f9b02d" stop-opacity="1.000"/><stop offset="0.075" stop-color="#fbcc2c" stop-opacity="1.000"/><stop offset="0.100" stop-color="#fdea3d" stop-opacity="1.000"/><stop offset="0.125" stop-color="#fff86f" stop-opacity="1.000"/><stop offset="0.150" stop-color="#fefcc7" stop-opacity="1.000"/><stop offset="0.175" stop-color="#f7f9f1" stop-opacity="1.000"/><stop offset="0.200" stop-color="#eef2fb" stop-opacity="1.000"/><stop offset="0.225" stop-color="#dbe3fc" stop-opacity="1.000"/><stop offset="0.250" stop-color="#bccdfa" stop-opacity="1.000"/><stop offset="0.275" stop-color="#9db6f9" stop-opacity="1.000"/><stop offset="0.300" stop-color="#7e9ff8" stop-opacity="1.000"/><stop offset="0.325" stop-color="#658cf7" stop-opacity="1.000"/><stop offset="0.350" stop-color="#517df7" stop-opacity="1.000"/><stop offset="0.375" stop-color="#4270f7" stop-opacity="1.000"/><stop offset="0.400" stop-color="#3667f7" stop-opacity="1.000"/><stop offset="0.425" stop-color="#2c61f6" stop-opacity="1.000"/><stop offset="0.450" stop-color="#255cf5" stop-opacity="1.000"/><stop offset="0.475" stop-color="#1f58f5" stop-opacity="1.000"/><stop offset="0.500" stop-color="#1b55f4" stop-opacity="1.000"/><stop offset="0.525" stop-color="#1853f4" stop-opacity="1.000"/><stop offset="0.550" stop-color="#1552f4" stop-opacity="1.000"/><stop offset="0.575" stop-color="#1251f4" stop-opacity="1.000"/><stop offset="0.600" stop-color="#1050f3" stop-opacity="1.000"/><stop offset="0.625" stop-color="#0e50f3" stop-opacity="1.000"/><stop offset="0.650" stop-color="#0d4ff3" stop-opacity="1.000"/><stop offset="0.675" stop-color="#0b4ff3" stop-opacity="1.000"/><stop offset="0.700" stop-color="#0b4ef3" stop-opacity="1.000"/><stop offset="0.725" stop-color="#0a4ef2" stop-opacity="1.000"/><stop offset="0.750" stop-color="#094ef2" stop-opacity="1.000"/><stop offset="0.775" stop-color="#084ef2" stop-opacity="1.000"/><stop offset="0.800" stop-color="#084ef2" stop-opacity="1.000"/><stop offset="0.825" stop-color="#084df2" stop-opacity="0.875"/><stop offset="0.850" stop-color="#074df2" stop-opacity="0.750"/><stop offset="0.875" stop-color="#074df2" stop-opacity="0.625"/><stop offset="0.900" stop-color="#074df2" stop-opacity="0.500"/><stop offset="0.925" stop-color="#074df2" stop-opacity="0.375"/><stop offset="0.950" stop-color="#064df2" stop-opacity="0.250"/><stop offset="0.975" stop-color="#064df2" stop-opacity="0.125"/><stop offset="1.000" stop-color="#064df2" stop-opacity="0.000"/></radialGradient><radialGradient id="g18"><stop offset="0.000" stop-color="#f02424" stop-opacity="1.000"/><stop offset="0.025" stop-color="#f02b26" stop-opacity="1.000"/><stop offset="0.050" stop-color="#f1482a" stop-opacity="1.000"/><stop offset="0.075" stop-color="#f47531" stop-opacity="1.000"/><stop offset="0.100" stop-color="#f8a62f" stop-opacity="1.000"/><stop offset="0.125" stop-color="#fcdf32" stop-opacity="1.000"/><stop offset="0.150" stop-color="#fff973" stop-opacity="1.000"/><stop offset="0.175" stop-color="#fcfbdf" stop-opacity="1.000"/><stop offset="0.200" stop-color="#f2f5fa" stop-opacity="1.000"/><stop offset="0.225" stop-color="#dee6fc" stop-opacity="1.000"/><stop offset="0.250" stop-color="#bccdfa" stop-opacity="1.000"/><stop offset="0.275" stop-color="#97b2f9" stop-opacity="1.000"/><stop offset="0.300" stop-color="#7699f8" stop-opacity="1.000"/><stop offset="0.325" stop-color="#5d85f7" stop-opacity="1.000"/><stop offset="0.350" stop-color="#4976f7" stop-opacity="1.000"/><stop offset="0.375" stop-color="#3a6bf7" stop-opacity="1.000"/><stop offset="0.400" stop-color="#2f63f6" stop-opacity="1.000"/><stop offset="0.425" stop-color="#275df6" stop-opacity="1.000"/><stop offset="0.450" stop-color="#2059f5" stop-opacity="1.000"/><stop offset="0.475" stop-color="#1c56f5" stop-opacity="1.000"/><stop offset="0.500" stop-color="#1954f4" stop-opacity="1.000"/><stop offset="0.525" stop-color="#1652f4" stop-opacity="1.000"/><stop offset="0.550" stop-color="#1451f4" stop-opacity="1.000"/><stop offset="0.575" stop-color="#1151f3" stop-opacity="1.000"/><stop offset="0.600" stop-color="#0f50f3" stop-opacity="1.000"/><stop offset="0.625" stop-color="#0e4ff3" stop-opacity="1.000"/><stop offset="0.650" stop-color="#0c4ff3" stop-opacity="1.000"/><stop offset="0.675" stop-color="#0b4ff3" stop-opacity="1.000"/><stop offset="0.700" stop-color="#0a4ef3" stop-opacity="1.000"/><stop offset="0.725" stop-color="#0a4ef2" stop-opacity="1.000"/><stop offset="0.750" stop-color="#094ef2" stop-opacity="1.000"/><stop offset="0.775" stop-color="#084ef2" stop-opacity="1.000"/><stop offset="0.800" stop-color="#084ef2" stop-opacity="1.000"/><stop offset="0.825" stop-color="#084df2" stop-opacity="0.875"/><stop offset="0.850" stop-color="#074df2" stop-opacity="0.750"/><stop offset="0.875" stop-color="#074df2" stop-opacity="0.625"/><stop offset="0.900" stop-color="#074df2" stop-opacity="0.500"/><stop offset="0.925" stop-color="#074df2" stop-opacity="0.375"/><stop offset="0.950" stop-color="#064df2" stop-opacity="0.250"/><stop offset="0.975" stop-color="#064df2" stop-opacity="0.125"/><stop offset="1.000" stop-color="#064df2" stop-opacity="0.000"/></radialGradient><radialGradient id="g19"><stop offset="0.000" stop-color="#99b3f9" stop-opacity="1.000"/><stop offset="0.025" stop-color="#97b1f9" stop-opacity="1.000"/><stop offset="0.050" stop-color="#91adf8" stop-opacity="1.000"/><stop offset="0.075" stop-color="#89a7f8" stop-opacity="1.000"/><stop offset="0.100" stop-color="#7d9ef8" stop-opacity="1.000"/><stop offset="0.125" stop-color="#7195f8" stop-opacity="1.000"/><stop offset="0.150" stop-color="#638af7" stop-opacity="1.000"/><stop offset="0.175" stop-color="#5680f7" stop-opacity="1.000"/><stop offset="0.200" stop-color="#4976f7" stop-opacity="1.000"/><stop offset="0.225" stop-color="#3e6ef7" stop-opacity="1.000"/><stop offset="0.250" stop-color="#3467f7" stop-opacity="1.000"/><stop offset="0.275" stop-color="#2c61f6" stop-opacity="1.000"/><stop offset="0.300" stop-color="#255cf6" stop-opacity="1.000"/><stop offset="0.325" stop-color="#2058f5" stop-opacity="1.000"/><stop offset="0.350" stop-color="#1b55f5" stop-opacity="1.000"/><stop offset="0.375" stop-color="#1853f4" stop-opacity="1.000"/><stop offset="0.400" stop-color="#1552f4" stop-opacity="1.000"/><stop offset="0.425" stop-color="#1251f4" stop-opacity="1.000"/><stop offset="0.450" stop-color="#1050f3" stop-opacity="1.000"/><stop offset="0.475" stop-color="#0e50f3" stop-opacity="1.000"/><stop offset="0.500" stop-color="#0d4ff3" stop-opacity="1.000"/><stop offset="0.525" stop-color="#0c4ff3" stop-opacity="1.000"/><stop offset="0.550" stop-color="#0b4ff3" stop-opacity="1.000"/><stop offset="0.575" stop-color="#0a4ef3" stop-opacity="1.000"/><stop offset="0.600" stop-color="#0a4ef2" stop-opacity="1.000"/><stop offset="0.625" stop-color="#094ef2" stop-opacity="1.000"/><stop offset="0.650" stop-color="#094ef2" stop-opacity="1.000"/><stop offset="0.675" stop-color="#084ef2" stop-opacity="1.000"/><stop offset="0.700" stop-color="#084ef2" stop-opacity="1.000"/><stop offset="0.725" stop-color="#074df2" stop-opacity="1.000"/><stop offset="0.750" stop-color="#074df2" stop-opacity="1.000"/><stop offset="0.775" stop-color="#074df2" stop-opacity="1.000"/><stop offset="0.800" stop-color="#074df2" stop-opacity="1.000"/><stop offset="0.825" stop-color="#074df2" stop-opacity="0.875"/><stop offset="0.850" stop-color="#074df2" stop-opacity="0.750"/><stop offset="0.875" stop-color="#064df2" stop-opacity="0.625"/><stop offset="0.900" stop-color="#064df2" stop-opacity="0.500"/><stop offset="0.925" stop-color="#064df2" stop-opacity="0.375"/><stop offset="0.950" stop-color="#064df2" stop-opacity="0.250"/><stop offset="0.975" stop-color="#064df2" stop-opacity="0.125"/><stop offset="1.000" stop-color="#064df2" stop-opacity="0.000"/></radialGradient><radialGradient id="g20"><stop offset="0.000" stop-color="#99b3f9" stop-opacity="1.000"/><stop offset="0.025" stop-color="#97b1f9" stop-opacity="1.000"/><stop offset="0.050" stop-color="#91adf8" stop-opacity="1.000"/><stop offset="0.075" stop-color="#89a7f8" stop-opacity="1.000"/><stop offset="0.100" stop-color="#7d9ef8" stop-opacity="1.000"/><stop offset="0.125" stop-color="#7195f8" stop-opacity="1.000"/><stop offset="0.150" stop-color="#638af7" stop-opacity="1.000"/><stop offset="0.175" stop-color="#5680f7" stop-opacity="1.000"/><stop offset="0.200" stop-color="#4976f7" stop-opacity="1.000"/><stop offset="0.225" stop-color="#3e6ef7" stop-opacity="1.000"/><stop offset="0.250" stop-color="#3467f7" stop-opacity="1.000"/><stop offset="0.275" stop-color="#2c61f6" stop-opacity="1.000"/><stop offset="0.300" stop-color="#255cf6" stop-opacity="1.000"/><stop offset="0.325" stop-color="#2058f5" stop-opacity="1.000"/><stop offset="0.350" stop-color="#1b55f5" stop-opacity="1.000"/><stop offset="0.375" stop-color="#1853f4" stop-opacity="1.000"/><stop offset="0.400" stop-color="#1552f4" stop-opacity="1.000"/><stop offset="0.425" stop-color="#1251f4" stop-opacity="1.000"/><stop offset="0.450" stop-color="#1050f3" stop-opacity="1.000"/><stop offset="0.475" stop-color="#0e50f3" stop-opacity="1.000"/><stop offset="0.500" stop-color="#0d4ff3" stop-opacity="1.000"/><stop offset="0.525" stop-color="#0c4ff3" stop-opacity="1.000"/><stop offset="0.550" stop-color="#0b4ff3" stop-opacity="1.000"/><stop offset="0.575" stop-color="#0a4ef3" stop-opacity="1.000"/><stop offset="0.600" stop-color="#0a4ef2" stop-opacity="1.000"/><stop offset="0.625" stop-color="#094ef2" stop-opacity="1.000"/><stop offset="0.650" stop-color="#094ef2" stop-opacity="1.000"/><stop offset="0.675" stop-color="#084ef2" stop-opacity="1.000"/><stop offset="0.700" stop-color="#084ef2" stop-opacity="1.000"/><stop offset="0.725" stop-color="#074df2" stop-opacity="1.000"/><stop offset="0.750" stop-color="#074df2" stop-opacity="1.000"/><stop offset="0.775" stop-color="#074df2" stop-opacity="1.000"/><stop offset="0.800" stop-color="#074df2" stop-opacity="1.000"/><stop offset="0.825" stop-color="#074df2" stop-opacity="0.875"/><stop offset="0.850" stop-color="#074df2" stop-opacity="0.750"/><stop offset="0.875" stop-color="#064df2" stop-opacity="0.625"/><stop offset="0.900" stop-color="#064df2" stop-opacity="0.500"/><stop offset="0.925" stop-color="#064df2" stop-opacity="0.375"/><stop offset="0.950" stop-color="#064df2" stop-opacity="0.250"/><stop offset="0.975" stop-color="#064df2" stop-opacity="0.125"/><stop offset="1.000" stop-color="#064df2" stop-opacity="0.000"/></radialGradient><radialGradient id="g21"><stop offset="0.000" stop-color="#99b3f9" stop-opacity="1.000"/><stop offset="0.025" stop-color="#97b1f9" stop-opacity="1.000"/><stop offset="0.050" stop-color="#91adf8" stop-opacity="1.000"/><stop offset="0.075" stop-color="#89a7f8" stop-opacity="1.000"/><stop offset="0.100" stop-color="#7d9ef8" stop-opacity="1.000"/><stop offset="0.125" stop-color="#7195f8" stop-opacity="1.000"/><stop offset="0.150" stop-color="#638af7" stop-opacity="1.000"/><stop offset="0.175" stop-color="#5680f7" stop-opacity="1.000"/><stop offset="0.200" stop-color="#4976f7" stop-opacity="1.000"/><stop offset="0.225" stop-color="#3e6ef7" stop-opacity="1.000"/><stop offset="0.250" stop-color="#3467f7" stop-opacity="1.000"/><stop offset="0.275" stop-color="#2c61f6" stop-opacity="1.000"/><stop offset="0.300" stop-color="#255cf6" stop-opacity="1.000"/><stop offset="0.325" stop-color="#2058f5" stop-opacity="1.000"/><stop offset="0.350" stop-color="#1b55f5" stop-opacity="1.000"/><stop offset="0.375" stop-color="#1853f4" stop-opacity="1.000"/><stop offset="0.400" stop-color="#1552f4" stop-opacity="1.000"/><stop offset="0.425" stop-color="#1251f4" stop-opacity="1.000"/><stop offset="0.450" stop-color="#1050f3" stop-opacity="1.000"/><stop offset="0.475" stop-color="#0e50f3" stop-opacity="1.000"/><stop offset="0.500" stop-color="#0d4ff3" stop-opacity="1.000"/><stop offset="0.525" stop-color="#0c4ff3" stop-opacity="1.000"/><stop offset="0.550" stop-color="#0b4ff3" stop-opacity="1.000"/><stop offset="0.575" stop-color="#0a4ef3" stop-opacity="1.000"/><stop offset="0.600" stop-color="#0a4ef2" stop-opacity="1.000"/><stop offset="0.625" stop-color="#094ef2" stop-opacity="1.000"/><stop offset="0.650" stop-color="#094ef2" stop-opacity="1.000"/><stop offset="0.675" stop-color="#084ef2" stop-opacity="1.000"/><stop offset="0.700" stop-color="#084ef2" stop-opacity="1.000"/><stop offset="0.725" stop-color="#074df2" stop-opacity="1.000"/><stop offset="0.750" stop-color="#074df2" stop-opacity="1.000"/><stop offset="0.775" stop-color="#074df2" stop-opacity="1.000"/><stop offset="0.800" stop-color="#074df2" stop-opacity="1.000"/><stop offset="0.825" stop-color="#074df2" stop-opacity="0.875"/><stop offset="0.850" stop-color="#074df2" stop-opacity="0.750"/><stop offset="0.875" stop-color="#064df2" stop-opacity="0.625"/><stop offset="0.900" stop-color="#064df2" stop-opacity="0.500"/><stop offset="0.925" stop-color="#064df2" stop-opacity="0.375"/><stop offset="0.950" stop-color="#064df2" stop-opacity="0.250"/><stop offset="0.975" stop-color="#064df2" stop-opacity="0.125"/><stop offset="1.000" stop-color="#064df2" stop-opacity="0.000"/></radialGradient><radialGradient id="g22"><stop offset="0.000" stop-color="#99b3f9" stop-opacity="1.000"/><stop offset="0.025" stop-color="#97b1f9" stop-opacity="1.000"/><stop offset="0.050" stop-color="#91adf8" stop-opacity="1.000"/><stop offset="0.075" stop-color="#89a7f8" stop-opacity="1.000"/><stop offset="0.100" stop-color="#7d9ef8" stop-opacity="1.000"/><stop offset="0.125" stop-color="#7195f8" stop-opacity="1.000"/><stop offset="0.150" stop-color="#638af7" stop-opacity="1.000"/><stop offset="0.175" stop-color="#5680f7" stop-opacity="1.000"/><stop offset="0.200" stop-color="#4976f7" stop-opacity="1.000"/><stop offset="0.225" stop-color="#3e6ef7" stop-opacity="1.000"/><stop offset="0.250" stop-color="#3467f7" stop-opacity="1.000"/><stop offset="0.275" stop-color="#2c61f6" stop-opacity="1.000"/><stop offset="0.300" stop-color="#255cf6" stop-opacity="1.000"/><stop offset="0.325" stop-color="#2058f5" stop-opacity="1.000"/><stop offset="0.350" stop-color="#1b55f5" stop-opacity="1.000"/><stop offset="0.375" stop-color="#1853f4" stop-opacity="1.000"/><stop offset="0.400" stop-color="#1552f4" stop-opacity="1.000"/><stop offset="0.425" stop-color="#1251f4" stop-opacity="1.000"/><stop offset="0.450" stop-color="#1050f3" stop-opacity="1.000"/><stop offset="0.475" stop-color="#0e50f3" stop-opacity="1.000"/><stop offset="0.500" stop-color="#0d4ff3" stop-opacity="1.000"/><stop offset="0.525" stop-color="#0c4ff3" stop-opacity="1.000"/><stop offset="0.550" stop-color="#0b4ff3" stop-opacity="1.000"/><stop offset="0.575" stop-color="#0a4ef3" stop-opacity="1.000"/><stop offset="0.600" stop-color="#0a4ef2" stop-opacity="1.000"/><stop offset="0.625" stop-color="#094ef2" stop-opacity="1.000"/><stop offset="0.650" stop-color="#094ef2" stop-opacity="1.000"/><stop offset="0.675" stop-color="#084ef2" stop-opacity="1.000"/><stop offset="0.700" stop-color="#084ef2" stop-opacity="1.000"/><stop offset="0.725" stop-color="#074df2" stop-opacity="1.000"/><stop offset="0.750" stop-color="#074df2" stop-opacity="1.000"/><stop offset="0.775" stop-color="#074df2" stop-opacity="1.000"/><stop offset="0.800" stop-color="#074df2" stop-opacity="1.000"/><stop offset="0.825" stop-color="#074df2" stop-opacity="0.875"/><stop offset="0.850" stop-color="#074df2" stop-opacity="0.750"/><stop offset="0.875" stop-color="#064df2" stop-opacity="0.625"/><stop offset="0.900" stop-color="#064df2" stop-opacity="0.500"/><stop offset="0.925" stop-color="#064df2" stop-opacity="0.375"/><stop offset="0.950" stop-color="#064df2" stop-opacity="0.250"/><stop offset="0.975" stop-color="#064df2" stop-opacity="0.125"/><stop offset="1.000" stop-color="#064df2" stop-opacity="0.000"/></radialGradient><radialGradient id="g23"><stop offset="0.000" stop-color="#f02825" stop-opacity="1.000"/><stop offset="0.025" stop-color="#f1432a" stop-opacity="1.000"/><stop offset="0.050" stop-color="#f68c32" stop-opacity="1.000"/><stop offset="0.075" stop-color="#fce335" stop-opacity="1.000"/><stop offset="0.100" stop-color="#fefcbf" stop-opacity="1.000"/><stop offset="0.125" stop-color="#f2f5fa" stop-opacity="1.000"/><stop offset="0.150" stop-color="#d2ddfb" stop-opacity="1.000"/><stop offset="0.175" stop-color="#a8bef9" stop-opacity="1.000"/><stop offset="0.200" stop-color="#81a1f8" stop-opacity="1.000"/><stop offset="0.225" stop-color="#658bf7" stop-opacity="1.000"/><stop offset="0.250" stop-color="#507bf7" stop-opacity="1.000"/><stop offset="0.275" stop-color="#4170f7" stop-opacity="1.000"/><stop offset="0.300" stop-color="#3667f7" stop-opacity="1.000"/><stop offset="0.325" stop-color="#2e62f6" stop-opacity="1.000"/><stop offset="0.350" stop-color="#285ef6" stop-opacity="1.000"/><stop offset="0.375" stop-color="#235bf5" stop-opacity="1.000"/><stop offset="0.400" stop-color="#2058f5" stop-opacity="1.000"/><stop offset="0.425" stop-color="#1d57f5" stop-opacity="1.000"/><stop offset="0.450" stop-color="#1b55f4" stop-opacity="1.000"/><stop offset="0.475" stop-color="#1954f4" stop-opacity="1.000"/><stop offset="0.500" stop-color="#1753f4" stop-opacity="1.000"/><stop offset="0.525" stop-color="#1652f4" stop-opacity="1.000"/><stop offset="0.550" stop-color="#1451f4" stop-opacity="1.000"/><stop offset="0.575" stop-color="#1251f3" stop-opacity="1.000"/><stop offset="0.600" stop-color="#1050f3" stop-opacity="1.000"/><stop offset="0.625" stop-color="#0e50f3" stop-opacity="1.000"/><stop offset="0.650" stop-color="#0d4ff3" stop-opacity="1.000"/><stop offset="0.675" stop-color="#0c4ff3" stop-opacity="1.000"/><stop offset="0.700" stop-color="#0b4ff3" stop-opacity="1.000"/><stop offset="0.725" stop-color="#0a4ef3" stop-opacity="1.000"/><stop offset="0.750" stop-color="#094ef2" stop-opacity="1.000"/><stop offset="0.775" stop-color="#094ef2" stop-opacity="1.000"/><stop offset="0.800" stop-color="#084ef2" stop-opacity="1.000"/><stop offset="0.825" stop-color="#084ef2" stop-opacity="0.875"/><stop offset="0.850" stop-color="#074df2" stop-opacity="0.750"/><stop offset="0.875" stop-color="#074df2" stop-opacity="0.625"/><stop offset="0.900" stop-color="#074df2" stop-opacity="0.500"/><stop offset="0.925" stop-color="#074df2" stop-opacity="0.375"/><stop offset="0.950" stop-color="#074df2" stop-opacity="0.250"/><stop offset="0.975" stop-color="#064df2" stop-opacity="0.125"/><stop offset="1.000" stop-color="#064df2" stop-opacity="0.000"/></radialGradient><radialGradient id="g24"><stop offset="0.000" stop-color="#f2562c" stop-opacity="1.000"/><stop offset="0.025" stop-color="#f46f30" stop-opacity="1.000"/><stop offset="0.050" stop-color="#f9a92e" stop-opacity="1.000"/><stop offset="0.075" stop-color="#fdf047" stop-opacity="1.000"/><stop offset="0.100" stop-color="#fdfbd5" stop-opacity="1.000"/><stop offset="0.125" stop-color="#eff3fb" stop-opacity="1.000"/><stop offset="0.150" stop-color="#cfdbfb" stop-opacity="1.000"/><stop offset="0.175" stop-color="#a6bdf9" stop-opacity="1.000"/><stop offset="0.200" stop-color="#80a1f8" stop-opacity="1.000"/><stop offset="0.225" stop-color="#648bf7" stop-opacity="1.000"/><stop offset="0.250" stop-color="#507bf7" stop-opacity="1.000"/><stop offset="0.275" stop-color="#4170f7" stop-opacity="1.000"/><stop offset="0.300" stop-color="#3667f7" stop-opacity="1.000"/><stop offset="0.325" stop-color="#2e62f6" stop-opacity="1.000"/><stop offset="0.350" stop-color="#285ef6" stop-opacity="1.000"/><stop offset="0.375" stop-color="#235bf5" stop-opacity="1.000"/><stop offset="0.400" stop-color="#2058f5" stop-opacity="1.000"/><stop offset="0.425" stop-color="#1d57f5" stop-opacity="1.000"/><stop offset="0.450" stop-color="#1b55f4" stop-opacity="1.000"/><stop offset="0.475" stop-color="#1954f4" stop-opacity="1.000"/><stop offset="0.500" stop-color="#1753f4" stop-opacity="1.000"/><stop offset="0.525" stop-color="#1652f4" stop-opacity="1.000"/><stop offset="0.550" stop-color="#1451f4" stop-opacity="1.000"/><stop offset="0.575" stop-color="#1251f3" stop-opacity="1.000"/><stop offset="0.600" stop-color="#1050f3" stop-opacity="1.000"/><stop offset="0.625" stop-color="#0e50f3" stop-opacity="1.000"/><stop offset="0.650" stop-color="#0d4ff3" stop-opacity="1.000"/><stop offset="0.675" stop-color="#0c4ff3" stop-opacity="1.000"/><stop offset="0.700" stop-color="#0b4ff3" stop-opacity="1.000"/><stop offset="0.725" stop-color="#0a4ef3" stop-opacity="1.000"/><stop offset="0.750" stop-color="#094ef2" stop-opacity="1.000"/><stop offset="0.775" stop-color="#094ef2" stop-opacity="1.000"/><stop offset="0.800" stop-color="#084ef2" stop-opacity="1.000"/><stop offset="0.825" stop-color="#084ef2" stop-opacity="0.875"/><stop offset="0.850" stop-color="#074df2" stop-opacity="0.750"/><stop offset="0.875" stop-color="#074df2" stop-opacity="0.625"/><stop offset="0.900" stop-color="#074df2" stop-opacity="0.500"/><stop offset="0.925" stop-color="#074df2" stop-opacity="0.375"/><stop offset="0.950" stop-color="#074df2" stop-opacity="0.250"/><stop offset="0.975" stop-color="#064df2" stop-opacity="0.125"/><stop offset="1.000" stop-color="#064df2" stop-opacity="0.000"/></radialGradient><radialGradient id="g25"><stop offset="0.000" stop-color="#f02825" stop-opacity="1.000"/><stop offset="0.025" stop-color="#f1432a" stop-opacity="1.000"/><stop offset="0.050" stop-color="#f68c32" stop-opacity="1.000"/><stop offset="0.075" stop-color="#fce335" stop-opacity="1.000"/><stop offset="0.100" stop-color="#fefcbf" stop-opacity="1.000"/><stop offset="0.125" stop-color="#f2f5fa" stop-opacity="1.000"/><stop offset="0.150" stop-color="#d2ddfb" stop-opacity="1.000"/><stop offset="0.175" stop-color="#a8bef9" stop-opacity="1.000"/><stop offset="0.200" stop-color="#81a1f8" stop-opacity="1.000"/><stop offset="0.225" stop-color="#658bf7" stop-opacity="1.000"/><stop offset="0.250" stop-color="#507bf7" stop-opacity="1.000"/><stop offset="0.275" stop-color="#4170f7" stop-opacity="1.000"/><stop offset="0.300" stop-color="#3667f7" stop-opacity="1.000"/><stop offset="0.325" stop-color="#2e62f6" stop-opacity="1.000"/><stop offset="0.350" stop-color="#285ef6" stop-opacity="1.000"/><stop offset="0.375" stop-color="#235bf5" stop-opacity="1.000"/><stop offset="0.400" stop-color="#2058f5" stop-opacity="1.000"/><stop offset="0.425" stop-color="#1d57f5" stop-opacity="1.000"/><stop offset="0.450" stop-color="#1b55f4" stop-opacity="1.000"/><stop offset="0.475" stop-color="#1954f4" stop-opacity="1.000"/><stop offset="0.500" stop-color="#1753f4" stop-opacity="1.000"/><stop offset="0.525" stop-color="#1652f4" stop-opacity="1.000"/><stop offset="0.550" stop-color="#1451f4" stop-opacity="1.000"/><stop offset="0.575" stop-color="#1251f3" stop-opacity="1.000"/><stop offset="0.600" stop-color="#1050f3" stop-opacity="1.000"/><stop offset="0.625" stop-color="#0e50f3" stop-opacity="1.000"/><stop offset="0.650" stop-color="#0d4ff3" stop-opacity="1.000"/><stop offset="0.675" stop-color="#0c4ff3" stop-opacity="1.000"/><stop offset="0.700" stop-color="#0b4ff3" stop-opacity="1.000"/><stop offset="0.725" stop-color="#0a4ef3" stop-opacity="1.000"/><stop offset="0.750" stop-color="#094ef2" stop-opacity="1.000"/><stop offset="0.775" stop-color="#094ef2" stop-opacity="1.000"/><stop offset="0.800" stop-color="#084ef2" stop-opacity="1.000"/><stop offset="0.825" stop-color="#084ef2" stop-opacity="0.875"/><stop offset="0.850" stop-color="#074df2" stop-opacity="0.750"/><stop offset="0.875" stop-color="#074df2" stop-opacity="0.625"/><stop offset="0.900" stop-color="#074df2" stop-opacity="0.500"/><stop offset="0.925" stop-color="#074df2" stop-opacity="0.375"/><stop offset="0.950" stop-color="#074df2" stop-opacity="0.250"/><stop offset="0.975" stop-color="#064df2" stop-opacity="0.125"/><stop offset="1.000" stop-color="#064df2" stop-opacity="0.000"/></radialGradient><radialGradient id="g26"><stop offset="0.000" stop-color="#f2562c" stop-opacity="1.000"/><stop offset="0.025" stop-color="#f46f30" stop-opacity="1.000"/><stop offset="0.050" stop-color="#f9a92e" stop-opacity="1.000"/><stop offset="0.075" stop-color="#fdf047" stop-opacity="1.000"/><stop offset="0.100" stop-color="#fdfbd5" stop-opacity="1.000"/><stop offset="0.125" stop-color="#eff3fb" stop-opacity="1.000"/><stop offset="0.150" stop-color="#cfdbfb" stop-opacity="1.000"/><stop offset="0.175" stop-color="#a6bdf9" stop-opacity="1.000"/><stop offset="0.200" stop-color="#80a1f8" stop-opacity="1.000"/><stop offset="0.225" stop-color="#648bf7" stop-opacity="1.000"/><stop offset="0.250" stop-color="#507bf7" stop-opacity="1.000"/><stop offset="0.275" stop-color="#4170f7" stop-opacity="1.000"/><stop offset="0.300" stop-color="#3667f7" stop-opacity="1.000"/><stop offset="0.325" stop-color="#2e62f6" stop-opacity="1.000"/><stop offset="0.350" stop-color="#285ef6" stop-opacity="1.000"/><stop offset="0.375" stop-color="#235bf5" stop-opacity="1.000"/><stop offset="0.400" stop-color="#2058f5" stop-opacity="1.000"/><stop offset="0.425" stop-color="#1d57f5" stop-opacity="1.000"/><stop offset="0.450" stop-color="#1b55f4" stop-opacity="1.000"/><stop offset="0.475" stop-color="#1954f4" stop-opacity="1.000"/><stop offset="0.500" stop-color="#1753f4" stop-opacity="1.000"/><stop offset="0.525" stop-color="#1652f4" stop-opacity="1.000"/><stop offset="0.550" stop-color="#1451f4" stop-opacity="1.000"/><stop offset="0.575" stop-color="#1251f3" stop-opacity="1.000"/><stop offset="0.600" stop-color="#1050f3" stop-opacity="1.000"/><stop offset="0.625" stop-color="#0e50f3" stop-opacity="1.000"/><stop offset="0.650" stop-color="#0d4ff3" stop-opacity="1.000"/><stop offset="0.675" stop-color="#0c4ff3" stop-opacity="1.000"/><stop offset="0.700" stop-color="#0b4ff3" stop-opacity="1.000"/><stop offset="0.725" stop-color="#0a4ef3" stop-opacity="1.000"/><stop offset="0.750" stop-color="#094ef2" stop-opacity="1.000"/><stop offset="0.775" stop-color="#094ef2" stop-opacity="1.000"/><stop offset="0.800" stop-color="#084ef2" stop-opacity="1.000"/><stop offset="0.825" stop-color="#084ef2" stop-opacity="0.875"/><stop offset="0.850" stop-color="#074df2" stop-opacity="0.750"/><stop offset="0.875" stop-color="#074df2" stop-opacity="0.625"/><stop offset="0.900" stop-color="#074df2" stop-opacity="0.500"/><stop offset="0.925" stop-color="#074df2" stop-opacity="0.375"/><stop offset="0.950" stop-color="#074df2" stop-opacity="0.250"/><stop offset="0.975" stop-color="#064df2" stop-opacity="0.125"/><stop offset="1.000" stop-color="#064df2" stop-opacity="0.000"/></radialGradient><radialGradient id="g27"><stop offset="0.000" stop-color="#f02825" stop-opacity="1.000"/><stop offset="0.025" stop-color="#f1432a" stop-opacity="1.000"/><stop offset="0.050" stop-color="#f68c32" stop-opacity="1.000"/><stop offset="0.075" stop-color="#fce335" stop-opacity="1.000"/><stop offset="0.100" stop-color="#fefcbf" stop-opacity="1.000"/><stop offset="0.125" stop-color="#f2f5fa" stop-opacity="1.000"/><stop offset="0.150" stop-color="#d2ddfb" stop-opacity="1.000"/><stop offset="0.175" stop-color="#a8bef9" stop-opacity="1.000"/><stop offset="0.200" stop-color="#81a1f8" stop-opacity="1.000"/><stop offset="0.225" stop-color="#658bf7" stop-opacity="1.000"/><stop offset="0.250" stop-color="#507bf7" stop-opacity="1.000"/><stop offset="0.275" stop-color="#4170f7" stop-opacity="1.000"/><stop offset="0.300" stop-color="#3667f7" stop-opacity="1.000"/><stop offset="0.325" stop-color="#2e62f6" stop-opacity="1.000"/><stop offset="0.350" stop-color="#285ef6" stop-opacity="1.000"/><stop offset="0.375" stop-color="#235bf5" stop-opacity="1.000"/><stop offset="0.400" stop-color="#2058f5" stop-opacity="1.000"/><stop offset="0.425" stop-color="#1d57f5" stop-opacity="1.000"/><stop offset="0.450" stop-color="#1b55f4" stop-opacity="1.000"/><stop offset="0.475" stop-color="#1954f4" stop-opacity="1.000"/><stop offset="0.500" stop-color="#1753f4" stop-opacity="1.000"/><stop offset="0.525" stop-color="#1652f4" stop-opacity="1.000"/><stop offset="0.550" stop-color="#1451f4" stop-opacity="1.000"/><stop offset="0.575" stop-color="#1251f3" stop-opacity="1.000"/><stop offset="0.600" stop-color="#1050f3" stop-opacity="1.000"/><stop offset="0.625" stop-color="#0e50f3" stop-opacity="1.000"/><stop offset="0.650" stop-color="#0d4ff3" stop-opacity="1.000"/><stop offset="0.675" stop-color="#0c4ff3" stop-opacity="1.000"/><stop offset="0.700" stop-color="#0b4ff3" stop-opacity="1.000"/><stop offset="0.725" stop-color="#0a4ef3" stop-opacity="1.000"/><stop offset="0.750" stop-color="#094ef2" stop-opacity="1.000"/><stop offset="0.775" stop-color="#094ef2" stop-opacity="1.000"/><stop offset="0.800" stop-color="#084ef2" stop-opacity="1.000"/><stop offset="0.825" stop-color="#084ef2" stop-opacity="0.875"/><stop offset="0.850" stop-color="#074df2" stop-opacity="0.750"/><stop offset="0.875" stop-color="#074df2" stop-opacity="0.625"/><stop offset="0.900" stop-color="#074df2" stop-opacity="0.500"/><stop offset="0.925" stop-color="#074df2" stop-opacity="0.375"/><stop offset="0.950" stop-color="#074df2" stop-opacity="0.250"/><stop offset="0.975" stop-color="#064df2" stop-opacity="0.125"/><stop offset="1.000" stop-color="#064df2" stop-opacity="0.000"/></radialGradient><radialGradient id="g28"><stop offset="0.000" stop-color="#f2562c" stop-opacity="1.000"/><stop offset="0.025" stop-color="#f46f30" stop-opacity="1.000"/><stop offset="0.050" stop-color="#f9a92e" stop-opacity="1.000"/><stop offset="0.075" stop-color="#fdf047" stop-opacity="1.000"/><stop offset="0.100" stop-color="#fdfbd5" stop-opacity="1.000"/><stop offset="0.125" stop-color="#eff3fb" stop-opacity="1.000"/><stop offset="0.150" stop-color="#cfdbfb" stop-opacity="1.000"/><stop offset="0.175" stop-color="#a6bdf9" stop-opacity="1.000"/><stop offset="0.200" stop-color="#80a1f8" stop-opacity="1.000"/><stop offset="0.225" stop-color="#648bf7" stop-opacity="1.000"/><stop offset="0.250" stop-color="#507bf7" stop-opacity="1.000"/><stop offset="0.275" stop-color="#4170f7" stop-opacity="1.000"/><stop offset="0.300" stop-color="#3667f7" stop-opacity="1.000"/><stop offset="0.325" stop-color="#2e62f6" stop-opacity="1.000"/><stop offset="0.350" stop-color="#285ef6" stop-opacity="1.000"/><stop offset="0.375" stop-color="#235bf5" stop-opacity="1.000"/><stop offset="0.400" stop-color="#2058f5" stop-opacity="1.000"/><stop offset="0.425" stop-color="#1d57f5" stop-opacity="1.000"/><stop offset="0.450" stop-color="#1b55f4" stop-opacity="1.000"/><stop offset="0.475" stop-color="#1954f4" stop-opacity="1.000"/><stop offset="0.500" stop-color="#1753f4" stop-opacity="1.000"/><stop offset="0.525" stop-color="#1652f4" stop-opacity="1.000"/><stop offset="0.550" stop-color="#1451f4" stop-opacity="1.000"/><stop offset="0.575" stop-color="#1251f3" stop-opacity="1.000"/><stop offset="0.600" stop-color="#1050f3" stop-opacity="1.000"/><stop offset="0.625" stop-color="#0e50f3" stop-opacity="1.000"/><stop offset="0.650" stop-color="#0d4ff3" stop-opacity="1.000"/><stop offset="0.675" stop-color="#0c4ff3" stop-opacity="1.000"/><stop offset="0.700" stop-color="#0b4ff3" stop-opacity="1.000"/><stop offset="0.725" stop-color="#0a4ef3" stop-opacity="1.000"/><stop offset="0.750" stop-color="#094ef2" stop-opacity="1.000"/><stop offset="0.775" stop-color="#094ef2" stop-opacity="1.000"/><stop offset="0.800" stop-color="#084ef2" stop-opacity="1.000"/><stop offset="0.825" stop-color="#084ef2" stop-opacity="0.875"/><stop offset="0.850" stop-color="#074df2" stop-opacity="0.750"/><stop offset="0.875" stop-color="#074df2" stop-opacity="0.625"/><stop offset="0.900" stop-color="#074df2" stop-opacity="0.500"/><stop offset="0.925" stop-color="#074df2" stop-opacity="0.375"/><stop offset="0.950" stop-color="#074df2" stop-opacity="0.250"/><stop offset="0.975" stop-color="#064df2" stop-opacity="0.125"/><stop offset="1.000" stop-color="#064df2" stop-opacity="0.000"/></radialGradient><radialGradient id="g29"><stop offset="0.000" stop-color="#f02825" stop-opacity="1.000"/><stop offset="0.025" stop-color="#f1432a" stop-opacity="1.000"/><stop offset="0.050" stop-color="#f68c32" stop-opacity="1.000"/><stop offset="0.075" stop-color="#fce335" stop-opacity="1.000"/><stop offset="0.100" stop-color="#fefcbf" stop-opacity="1.000"/><stop offset="0.125" stop-color="#f2f5fa" stop-opacity="1.000"/><stop offset="0.150" stop-color="#d2ddfb" stop-opacity="1.000"/><stop offset="0.175" stop-color="#a8bef9" stop-opacity="1.000"/><stop offset="0.200" stop-color="#81a1f8" stop-opacity="1.000"/><stop offset="0.225" stop-color="#658bf7" stop-opacity="1.000"/><stop offset="0.250" stop-color="#507bf7" stop-opacity="1.000"/><stop offset="0.275" stop-color="#4170f7" stop-opacity="1.000"/><stop offset="0.300" stop-color="#3667f7" stop-opacity="1.000"/><stop offset="0.325" stop-color="#2e62f6" stop-opacity="1.000"/><stop offset="0.350" stop-color="#285ef6" stop-opacity="1.000"/><stop offset="0.375" stop-color="#235bf5" stop-opacity="1.000"/><stop offset="0.400" stop-color="#2058f5" stop-opacity="1.000"/><stop offset="0.425" stop-color="#1d57f5" stop-opacity="1.000"/><stop offset="0.450" stop-color="#1b55f4" stop-opacity="1.000"/><stop offset="0.475" stop-color="#1954f4" stop-opacity="1.000"/><stop offset="0.500" stop-color="#1753f4" stop-opacity="1.000"/><stop offset="0.525" stop-color="#1652f4" stop-opacity="1.000"/><stop offset="0.550" stop-color="#1451f4" stop-opacity="1.000"/><stop offset="0.575" stop-color="#1251f3" stop-opacity="1.000"/><stop offset="0.600" stop-color="#1050f3" stop-opacity="1.000"/><stop offset="0.625" stop-color="#0e50f3" stop-opacity="1.000"/><stop offset="0.650" stop-color="#0d4ff3" stop-opacity="1.000"/><stop offset="0.675" stop-color="#0c4ff3" stop-opacity="1.000"/><stop offset="0.700" stop-color="#0b4ff3" stop-opacity="1.000"/><stop offset="0.725" stop-color="#0a4ef3" stop-opacity="1.000"/><stop offset="0.750" stop-color="#094ef2" stop-opacity="1.000"/><stop offset="0.775" stop-color="#094ef2" stop-opacity="1.000"/><stop offset="0.800" stop-color="#084ef2" stop-opacity="1.000"/><stop offset="0.825" stop-color="#084ef2" stop-opacity="0.875"/><stop offset="0.850" stop-color="#074df2" stop-opacity="0.750"/><stop offset="0.875" stop-color="#074df2" stop-opacity="0.625"/><stop offset="0.900" stop-color="#074df2" stop-opacity="0.500"/><stop offset="0.925" stop-color="#074df2" stop-opacity="0.375"/><stop offset="0.950" stop-color="#074df2" stop-opacity="0.250"/><stop offset="0.975" stop-color="#064df2" stop-opacity="0.125"/><stop offset="1.000" stop-color="#064df2" stop-opacity="0.000"/></radialGradient><radialGradient id="g30"><stop offset="0.000" stop-color="#f2562c" stop-opacity="1.000"/><stop offset="0.025" stop-color="#f46f30" stop-opacity="1.000"/><stop offset="0.050" stop-color="#f9a92e" stop-opacity="1.000"/><stop offset="0.075" stop-color="#fdf047" stop-opacity="1.000"/><stop offset="0.100" stop-color="#fdfbd5" stop-opacity="1.000"/><stop offset="0.125" stop-color="#eff3fb" stop-opacity="1.000"/><stop offset="0.150" stop-color="#cfdbfb" stop-opacity="1.000"/><stop offset="0.175" stop-color="#a6bdf9" stop-opacity="1.000"/><stop offset="0.200" stop-color="#80a1f8" stop-opacity="1.000"/><stop offset="0.225" stop-color="#648bf7" stop-opacity="1.000"/><stop offset="0.250" stop-color="#507bf7" stop-opacity="1.000"/><stop offset="0.275" stop-color="#4170f7" stop-opacity="1.000"/><stop offset="0.300" stop-color="#3667f7" stop-opacity="1.000"/><stop offset="0.325" stop-color="#2e62f6" stop-opacity="1.000"/><stop offset="0.350" stop-color="#285ef6" stop-opacity="1.000"/><stop offset="0.375" stop-color="#235bf5" stop-opacity="1.000"/><stop offset="0.400" stop-color="#2058f5" stop-opacity="1.000"/><stop offset="0.425" stop-color="#1d57f5" stop-opacity="1.000"/><stop offset="0.450" stop-color="#1b55f4" stop-opacity="1.000"/><stop offset="0.475" stop-color="#1954f4" stop-opacity="1.000"/><stop offset="0.500" stop-color="#1753f4" stop-opacity="1.000"/><stop offset="0.525" stop-color="#1652f4" stop-opacity="1.000"/><stop offset="0.550" stop-color="#1451f4" stop-opacity="1.000"/><stop offset="0.575" stop-color="#1251f3" stop-opacity="1.000"/><stop offset="0.600" stop-color="#1050f3" stop-opacity="1.000"/><stop offset="0.625" stop-color="#0e50f3" stop-opacity="1.000"/><stop offset="0.650" stop-color="#0d4ff3" stop-opacity="1.000"/><stop offset="0.675" stop-color="#0c4ff3" stop-opacity="1.000"/><stop offset="0.700" stop-color="#0b4ff3" stop-opacity="1.000"/><stop offset="0.725" stop-color="#0a4ef3" stop-opacity="1.000"/><stop offset="0.750" stop-color="#094ef2" stop-opacity="1.000"/><stop offset="0.775" stop-color="#094ef2" stop-opacity="1.000"/><stop offset="0.800" stop-color="#084ef2" stop-opacity="1.000"/><stop offset="0.825" stop-color="#084ef2" stop-opacity="0.875"/><stop offset="0.850" stop-color="#074df2" stop-opacity="0.750"/><stop offset="0.875" stop-color="#074df2" stop-opacity="0.625"/><stop offset="0.900" stop-color="#074df2" stop-opacity="0.500"/><stop offset="0.925" stop-color="#074df2" stop-opacity="0.375"/><stop offset="0.950" stop-color="#074df2" stop-opacity="0.250"/><stop offset="0.975" stop-color="#064df2" stop-opacity="0.125"/><stop offset="1.000" stop-color="#064df2" stop-opacity="0.000"/></radialGradient><radialGradient id="g31"><stop offset="0.000" stop-color="#f02825" stop-opacity="1.000"/><stop offset="0.025" stop-color="#f1432a" stop-opacity="1.000"/><stop offset="0.050" stop-color="#f68c32" stop-opacity="1.000"/><stop offset="0.075" stop-color="#fce335" stop-opacity="1.000"/><stop offset="0.100" stop-color="#fefcbf" stop-opacity="1.000"/><stop offset="0.125" stop-color="#f2f5fa" stop-opacity="1.000"/><stop offset="0.150" stop-color="#d2ddfb" stop-opacity="1.000"/><stop offset="0.175" stop-color="#a8bef9" stop-opacity="1.000"/><stop offset="0.200" stop-color="#81a1f8" stop-opacity="1.000"/><stop offset="0.225" stop-color="#658bf7" stop-opacity="1.000"/><stop offset="0.250" stop-color="#507bf7" stop-opacity="1.000"/><stop offset="0.275" stop-color="#4170f7" stop-opacity="1.000"/><stop offset="0.300" stop-color="#3667f7" stop-opacity="1.000"/><stop offset="0.325" stop-color="#2e62f6" stop-opacity="1.000"/><stop offset="0.350" stop-color="#285ef6" stop-opacity="1.000"/><stop offset="0.375" stop-color="#235bf5" stop-opacity="1.000"/><stop offset="0.400" stop-color="#2058f5" stop-opacity="1.000"/><stop offset="0.425" stop-color="#1d57f5" stop-opacity="1.000"/><stop offset="0.450" stop-color="#1b55f4" stop-opacity="1.000"/><stop offset="0.475" stop-color="#1954f4" stop-opacity="1.000"/><stop offset="0.500" stop-color="#1753f4" stop-opacity="1.000"/><stop offset="0.525" stop-color="#1652f4" stop-opacity="1.000"/><stop offset="0.550" stop-color="#1451f4" stop-opacity="1.000"/><stop offset="0.575" stop-color="#1251f3" stop-opacity="1.000"/><stop offset="0.600" stop-color="#1050f3" stop-opacity="1.000"/><stop offset="0.625" stop-color="#0e50f3" stop-opacity="1.000"/><stop offset="0.650" stop-color="#0d4ff3" stop-opacity="1.000"/><stop offset="0.675" stop-color="#0c4ff3" stop-opacity="1.000"/><stop offset="0.700" stop-color="#0b4ff3" stop-opacity="1.000"/><stop offset="0.725" stop-color="#0a4ef3" stop-opacity="1.000"/><stop offset="0.750" stop-color="#094ef2" stop-opacity="1.000"/><stop offset="0.775" stop-color="#094ef2" stop-opacity="1.000"/><stop offset="0.800" stop-color="#084ef2" stop-opacity="1.000"/><stop offset="0.825" stop-color="#084ef2" stop-opacity="0.875"/><stop offset="0.850" stop-color="#074df2" stop-opacity="0.750"/><stop offset="0.875" stop-color="#074df2" stop-opacity="0.625"/><stop offset="0.900" stop-color="#074df2" stop-opacity="0.500"/><stop offset="0.925" stop-color="#074df2" stop-opacity="0.375"/><stop offset="0.950" stop-color="#074df2" stop-opacity="0.250"/><stop offset="0.975" stop-color="#064df2" stop-opacity="0.125"/><stop offset="1.000" stop-color="#064df2" stop-opacity="0.000"/></radialGradient><radialGradient id="g32"><stop offset="0.000" stop-color="#becffa" stop-opacity="1.000"/><stop offset="0.025" stop-color="#b7cafa" stop-opacity="1.000"/><stop offset="0.050" stop-color="#a5bcf9" stop-opacity="1.000"/><stop offset="0.075" stop-color="#88a7f8" stop-opacity="1.000"/><stop offset="0.100" stop-color="#6d92f7" stop-opacity="1.000"/><stop offset="0.125" stop-color="#5680f7" stop-opacity="1.000"/><stop offset="0.150" stop-color="#4774f7" stop-opacity="1.000"/><stop offset="0.175" stop-color="#3c6cf7" stop-opacity="1.000"/><stop offset="0.200" stop-color="#3466f7" stop-opacity="1.000"/><stop offset="0.225" stop-color="#2e62f6" stop-opacity="1.000"/><stop offset="0.250" stop-color="#295ff6" stop-opacity="1.000"/><stop offset="0.275" stop-color="#255cf5" stop-opacity="1.000"/><stop offset="0.300" stop-color="#2159f5" stop-opacity="1.000"/><stop offset="0.325" stop-color="#1e57f5" stop-opacity="1.000"/><stop offset="0.350" stop-color="#1b56f5" stop-opacity="1.000"/><stop offset="0.375" stop-color="#1954f4" stop-opacity="1.000"/><stop offset="0.400" stop-color="#1753f4" stop-opacity="1.000"/><stop offset="0.425" stop-color="#1652f4" stop-opacity="1.000"/><stop offset="0.450" stop-color="#1451f4" stop-opacity="1.000"/><stop offset="0.475" stop-color="#1251f3" stop-opacity="1.000"/><stop offset="0.500" stop-color="#1050f3" stop-opacity="1.000"/><stop offset="0.525" stop-color="#0f50f3" stop-opacity="1.000"/><stop offset="0.550" stop-color="#0d4ff3" stop-opacity="1.000"/><stop offset="0.575" stop-color="#0c4ff3" stop-opacity="1.000"/><stop offset="0.600" stop-color="#0b4ff3" stop-opacity="1.000"/><stop offset="0.625" stop-color="#0b4ef3" stop-opacity="1.000"/><stop offset="0.650" stop-color="#0a4ef2" stop-opacity="1.000"/><stop offset="0.675" stop-color="#094ef2" stop-opacity="1.000"/><stop offset="0.700" stop-color="#094ef2" stop-opacity="1.000"/><stop offset="0.725" stop-color="#084ef2" stop-opacity="1.000"/><stop offset="0.750" stop-color="#084ef2" stop-opacity="1.000"/><stop offset="0.775" stop-color="#074df2" stop-opacity="1.000"/><stop offset="0.800" stop-color="#074df2" stop-opacity="1.000"/><stop offset="0.825" stop-color="#074df2" stop-opacity="0.875"/><stop offset="0.850" stop-color="#074df2" stop-opacity="0.750"/><stop offset="0.875" stop-color="#074df2" stop-opacity="0.625"/><stop offset="0.900" stop-color="#064df2" stop-opacity="0.500"/><stop offset="0.925" stop-color="#064df2" stop-opacity="0.375"/><stop offset="0.950" stop-color="#064df2" stop-opacity="0.250"/><stop offset="0.975" stop-color="#064df2" stop-opacity="0.125"/><stop offset="1.000" stop-color="#064df2" stop-opacity="0.000"/></radialGradient><radialGradient id="g33"><stop offset="0.000" stop-color="#becffa" stop-opacity="1.000"/><stop offset="0.025" stop-color="#b7cafa" stop-opacity="1.000"/><stop offset="0.050" stop-color="#a5bcf9" stop-opacity="1.000"/><stop offset="0.075" stop-color="#88a7f8" stop-opacity="1.000"/><stop offset="0.100" stop-color="#6d92f7" stop-opacity="1.000"/><stop offset="0.125" stop-color="#5680f7" stop-opacity="1.000"/><stop offset="0.150" stop-color="#4774f7" stop-opacity="1.000"/><stop offset="0.175" stop-color="#3c6cf7" stop-opacity="1.000"/><stop offset="0.200" stop-color="#3466f7" stop-opacity="1.000"/><stop offset="0.225" stop-color="#2e62f6" stop-opacity="1.000"/><stop offset="0.250" stop-color="#295ff6" stop-opacity="1.000"/><stop offset="0.275" stop-color="#255cf5" stop-opacity="1.000"/><stop offset="0.300" stop-color="#2159f5" stop-opacity="1.000"/><stop offset="0.325" stop-color="#1e57f5" stop-opacity="1.000"/><stop offset="0.350" stop-color="#1b56f5" stop-opacity="1.000"/><stop offset="0.375" stop-color="#1954f4" stop-opacity="1.000"/><stop offset="0.400" stop-color="#1753f4" stop-opacity="1.000"/><stop offset="0.425" stop-color="#1652f4" stop-opacity="1.000"/><stop offset="0.450" stop-color="#1451f4" stop-opacity="1.000"/><stop offset="0.475" stop-color="#1251f3" stop-opacity="1.000"/><stop offset="0.500" stop-color="#1050f3" stop-opacity="1.000"/><stop offset="0.525" stop-color="#0f50f3" stop-opacity="1.000"/><stop offset="0.550" stop-color="#0d4ff3" stop-opacity="1.000"/><stop offset="0.575" stop-color="#0c4ff3" stop-opacity="1.000"/><stop offset="0.600" stop-color="#0b4ff3" stop-opacity="1.000"/><stop offset="0.625" stop-color="#0b4ef3" stop-opacity="1.000"/><stop offset="0.650" stop-color="#0a4ef2" stop-opacity="1.000"/><stop offset="0.675" stop-color="#094ef2" stop-opacity="1.000"/><stop offset="0.700" stop-color="#094ef2" stop-opacity="1.000"/><stop offset="0.725" stop-color="#084ef2" stop-opacity="1.000"/><stop offset="0.750" stop-color="#084ef2" stop-opacity="1.000"/><stop offset="0.775" stop-color="#074df2" stop-opacity="1.000"/><stop offset="0.800" stop-color="#074df2" stop-opacity="1.000"/><stop offset="0.825" stop-color="#074df2" stop-opacity="0.875"/><stop offset="0.850" stop-color="#074df2" stop-opacity="0.750"/><stop offset="0.875" stop-color="#074df2" stop-opacity="0.625"/><stop offset="0.900" stop-color="#064df2" stop-opacity="0.500"/><stop offset="0.925" stop-color="#064df2" stop-opacity="0.375"/><stop offset="0.950" stop-color="#064df2" stop-opacity="0.250"/><stop offset="0.975" stop-color="#064df2" stop-opacity="0.125"/><stop offset="1.000" stop-color="#064df2" stop-opacity="0.000"/></radialGradient><radialGradient id="g34"><stop offset="0.000" stop-color="#becffa" stop-opacity="1.000"/><stop offset="0.025" stop-color="#b7cafa" stop-opacity="1.000"/><stop offset="0.050" stop-color="#a5bcf9" stop-opacity="1.000"/><stop offset="0.075" stop-color="#88a7f8" stop-opacity="1.000"/><stop offset="0.100" stop-color="#6d92f7" stop-opacity="1.000"/><stop offset="0.125" stop-color="#5680f7" stop-opacity="1.000"/><stop offset="0.150" stop-color="#4774f7" stop-opacity="1.000"/><stop offset="0.175" stop-color="#3c6cf7" stop-opacity="1.000"/><stop offset="0.200" stop-color="#3466f7" stop-opacity="1.000"/><stop offset="0.225" stop-color="#2e62f6" stop-opacity="1.000"/><stop offset="0.250" stop-color="#295ff6" stop-opacity="1.000"/><stop offset="0.275" stop-color="#255cf5" stop-opacity="1.000"/><stop offset="0.300" stop-color="#2159f5" stop-opacity="1.000"/><stop offset="0.325" stop-color="#1e57f5" stop-opacity="1.000"/><stop offset="0.350" stop-color="#1b56f5" stop-opacity="1.000"/><stop offset="0.375" stop-color="#1954f4" stop-opacity="1.000"/><stop offset="0.400" stop-color="#1753f4" stop-opacity="1.000"/><stop offset="0.425" stop-color="#1652f4" stop-opacity="1.000"/><stop offset="0.450" stop-color="#1451f4" stop-opacity="1.000"/><stop offset="0.475" stop-color="#1251f3" stop-opacity="1.000"/><stop offset="0.500" stop-color="#1050f3" stop-opacity="1.000"/><stop offset="0.525" stop-color="#0f50f3" stop-opacity="1.000"/><stop offset="0.550" stop-color="#0d4ff3" stop-opacity="1.000"/><stop offset="0.575" stop-color="#0c4ff3" stop-opacity="1.000"/><stop offset="0.600" stop-color="#0b4ff3" stop-opacity="1.000"/><stop offset="0.625" stop-color="#0b4ef3" stop-opacity="1.000"/><stop offset="0.650" stop-color="#0a4ef2" stop-opacity="1.000"/><stop offset="0.675" stop-color="#094ef2" stop-opacity="1.000"/><stop offset="0.700" stop-color="#094ef2" stop-opacity="1.000"/><stop offset="0.725" stop-color="#084ef2" stop-opacity="1.000"/><stop offset="0.750" stop-color="#084ef2" stop-opacity="1.000"/><stop offset="0.775" stop-color="#074df2" stop-opacity="1.000"/><stop offset="0.800" stop-color="#074df2" stop-opacity="1.000"/><stop offset="0.825" stop-color="#074df2" stop-opacity="0.875"/><stop offset="0.850" stop-color="#074df2" stop-opacity="0.750"/><stop offset="0.875" stop-color="#074df2" stop-opacity="0.625"/><stop offset="0.900" stop-color="#064df2" stop-opacity="0.500"/><stop offset="0.925" stop-color="#064df2" stop-opacity="0.375"/><stop offset="0.950" stop-color="#064df2" stop-opacity="0.250"/><stop offset="0.975" stop-color="#064df2" stop-opacity="0.125"/><stop offset="1.000" stop-color="#064df2" stop-opacity="0.000"/></radialGradient><radialGradient id="g35"><stop offset="0.000" stop-color="#becffa" stop-opacity="1.000"/><stop offset="0.025" stop-color="#b7cafa" stop-opacity="1.000"/><stop offset="0.050" stop-color="#a5bcf9" stop-opacity="1.000"/><stop offset="0.075" stop-color="#88a7f8" stop-opacity="1.000"/><stop offset="0.100" stop-color="#6d92f7" stop-opacity="1.000"/><stop offset="0.125" stop-color="#5680f7" stop-opacity="1.000"/><stop offset="0.150" stop-color="#4774f7" stop-opacity="1.000"/><stop offset="0.175" stop-color="#3c6cf7" stop-opacity="1.000"/><stop offset="0.200" stop-color="#3466f7" stop-opacity="1.000"/><stop offset="0.225" stop-color="#2e62f6" stop-opacity="1.000"/><stop offset="0.250" stop-color="#295ff6" stop-opacity="1.000"/><stop offset="0.275" stop-color="#255cf5" stop-opacity="1.000"/><stop offset="0.300" stop-color="#2159f5" stop-opacity="1.000"/><stop offset="0.325" stop-color="#1e57f5" stop-opacity="1.000"/><stop offset="0.350" stop-color="#1b56f5" stop-opacity="1.000"/><stop offset="0.375" stop-color="#1954f4" stop-opacity="1.000"/><stop offset="0.400" stop-color="#1753f4" stop-opacity="1.000"/><stop offset="0.425" stop-color="#1652f4" stop-opacity="1.000"/><stop offset="0.450" stop-color="#1451f4" stop-opacity="1.000"/><stop offset="0.475" stop-color="#1251f3" stop-opacity="1.000"/><stop offset="0.500" stop-color="#1050f3" stop-opacity="1.000"/><stop offset="0.525" stop-color="#0f50f3" stop-opacity="1.000"/><stop offset="0.550" stop-color="#0d4ff3" stop-opacity="1.000"/><stop offset="0.575" stop-color="#0c4ff3" stop-opacity="1.000"/><stop offset="0.600" stop-color="#0b4ff3" stop-opacity="1.000"/><stop offset="0.625" stop-color="#0b4ef3" stop-opacity="1.000"/><stop offset="0.650" stop-color="#0a4ef2" stop-opacity="1.000"/><stop offset="0.675" stop-color="#094ef2" stop-opacity="1.000"/><stop offset="0.700" stop-color="#094ef2" stop-opacity="1.000"/><stop offset="0.725" stop-color="#084ef2" stop-opacity="1.000"/><stop offset="0.750" stop-color="#084ef2" stop-opacity="1.000"/><stop offset="0.775" stop-color="#074df2" stop-opacity="1.000"/><stop offset="0.800" stop-color="#074df2" stop-opacity="1.000"/><stop offset="0.825" stop-color="#074df2" stop-opacity="0.875"/><stop offset="0.850" stop-color="#074df2" stop-opacity="0.750"/><stop offset="0.875" stop-color="#074df2" stop-opacity="0.625"/><stop offset="0.900" stop-color="#064df2" stop-opacity="0.500"/><stop offset="0.925" stop-color="#064df2" stop-opacity="0.375"/><stop offset="0.950" stop-color="#064df2" stop-opacity="0.250"/><stop offset="0.975" stop-color="#064df2" stop-opacity="0.125"/><stop offset="1.000" stop-color="#064df2" stop-opacity="0.000"/></radialGradient><linearGradient id="cbg" x1="0" y1="0" x2="0" y2="1"><stop offset="0.0000" stop-color="#f03228"/><stop offset="0.0263" stop-color="#f1482a"/><stop offset="0.0526" stop-color="#f25f2d"/><stop offset="0.0789" stop-color="#f47030"/><stop offset="0.1053" stop-color="#f58032"/><stop offset="0.1316" stop-color="#f79132"/><stop offset="0.1579" stop-color="#f8a030"/><stop offset="0.1842" stop-color="#f9b22d"/><stop offset="0.2105" stop-color="#fac32a"/><stop offset="0.2368" stop-color="#fbd42d"/><stop offset="0.2632" stop-color="#fce234"/><stop offset="0.2895" stop-color="#fded41"/><stop offset="0.3158" stop-color="#fef550"/><stop offset="0.3421" stop-color="#fff869"/><stop offset="0.3684" stop-color="#fffa82"/><stop offset="0.3947" stop-color="#fffba5"/><stop offset="0.4211" stop-color="#fefcc8"/><stop offset="0.4474" stop-color="#fcfbde"/><stop offset="0.4737" stop-color="#f9faeb"/><stop offset="0.5000" stop-color="#f7f8f2"/><stop offset="0.5263" stop-color="#f5f7f9"/><stop offset="0.5526" stop-color="#f0f4fa"/><stop offset="0.5789" stop-color="#ecf1fc"/><stop offset="0.6053" stop-color="#e4eafc"/><stop offset="0.6316" stop-color="#dce4fc"/><stop offset="0.6579" stop-color="#d0dbfb"/><stop offset="0.6842" stop-color="#c3d2fa"/><stop offset="0.7105" stop-color="#b4c7fa"/><stop offset="0.7368" stop-color="#a5bcf9"/><stop offset="0.7632" stop-color="#94aff8"/><stop offset="0.7895" stop-color="#82a2f8"/><stop offset="0.8158" stop-color="#7094f8"/><stop offset="0.8421" stop-color="#5f87f7"/><stop offset="0.8684" stop-color="#4e7af7"/><stop offset="0.8947" stop-color="#3c6cf7"/><stop offset="0.9211" stop-color="#2a5ff6"/><stop offset="0.9474" stop-color="#1652f4"/><stop offset="0.9737" stop-color="#0949f3"/><stop offset="1.0000" stop-color="#0e42f6"/></linearGradient><filter id="soft" x="0" y="0" width="1" height="1" color-interpolation-filters="sRGB"><feGaussianBlur stdDeviation="0.90"/></filter></defs><rect width="2379" height="1670" fill="#fff"/><g filter="url(#soft)"><rect width="2379" height="1670" fill="#fff"/><clipPath id="clipa"><rect x="12.0" y="10.5" width="773.0" height="784.0"/></clipPath>
<clipPath id="clipb"><rect x="801.0" y="12.0" width="773.0" height="784.0"/></clipPath>
<clipPath id="clipc"><rect x="1590.0" y="11.0" width="772.5" height="784.0"/></clipPath>
<g clip-path="url(#clipa)">
<rect x="12.0" y="10.5" width="773.0" height="784.0" fill="#064df2"/>
<circle cx="86.0" cy="85.0" r="165.0" fill="url(#g1)"/>
<circle cx="400.0" cy="85.0" r="165.0" fill="url(#g2)"/>
<circle cx="713.0" cy="85.0" r="165.0" fill="url(#g3)"/>
<circle cx="86.0" cy="402.0" r="165.0" fill="url(#g4)"/>
<circle cx="400.0" cy="402.0" r="165.0" fill="url(#g5)"/>
<circle cx="713.0" cy="402.0" r="165.0" fill="url(#g6)"/>
<circle cx="86.0" cy="720.0" r="165.0" fill="url(#g7)"/>
<circle cx="400.0" cy="720.0" r="165.0" fill="url(#g8)"/>
<circle cx="713.0" cy="720.0" r="165.0" fill="url(#g9)"/>
</g>
<g clip-path="url(#clipb)">
<rect x="801.0" y="12.0" width="773.0" height="784.0" fill="#064df2"/>
<circle cx="872.0" cy="82.0" r="165.0" fill="url(#g10)"/>
<circle cx="1187.0" cy="82.0" r="165.0" fill="url(#g11)"/>
<circle cx="1503.0" cy="82.0" r="165.0" fill="url(#g12)"/>
<circle cx="872.0" cy="399.5" r="165.0" fill="url(#g13)"/>
<circle cx="1187.0" cy="399.5" r="165.0" fill="url(#g14)"/>
<circle cx="1503.0" cy="399.5" r="165.0" fill="url(#g15)"/>
<circle cx="872.0" cy="725.0" r="165.0" fill="url(#g16)"/>
<circle cx="1187.0" cy="725.0" r="165.0" fill="url(#g17)"/>
<circle cx="1503.0" cy="725.0" r="165.0" fill="url(#g18)"/>
<circle cx="1029.0" cy="240.0" r="115.5" fill="url(#g19)"/>
<circle cx="1343.0" cy="240.0" r="115.5" fill="url(#g20)"/>
<circle cx="1030.0" cy="565.0" r="115.5" fill="url(#g21)"/>
<circle cx="1343.0" cy="563.0" r="115.5" fill="url(#g22)"/>
</g>
<g clip-path="url(#clipc)">
<rect x="1590.0" y="11.0" width="772.5" height="784.0" fill="#064df2"/>
<circle cx="1660.0" cy="78.0" r="181.5" fill="url(#g23)"/>
<circle cx="1977.0" cy="78.0" r="181.5" fill="url(#g24)"/>
<circle cx="2293.0" cy="78.0" r="181.5" fill="url(#g25)"/>
<circle cx="1660.0" cy="401.0" r="181.5" fill="url(#g26)"/>
<circle cx="1977.0" cy="401.0" r="181.5" fill="url(#g27)"/>
<circle cx="2293.0" cy="401.0" r="181.5" fill="url(#g28)"/>
<circle cx="1660.0" cy="722.0" r="181.5" fill="url(#g29)"/>
<circle cx="1977.0" cy="722.0" r="181.5" fill="url(#g30)"/>
<circle cx="2293.0" cy="722.0" r="181.5" fill="url(#g31)"/>
<circle cx="1817.0" cy="240.0" r="148.5" fill="url(#g32)"/>
<circle cx="2131.0" cy="238.0" r="148.5" fill="url(#g33)"/>
<circle cx="1818.0" cy="561.0" r="148.5" fill="url(#g34)"/>
<circle cx="2133.0" cy="560.0" r="148.5" fill="url(#g35)"/>
</g>
<line x1="834.6" y1="242.7" x2="1551" y2="242.7" stroke="#ff0000" stroke-width="6" stroke-dasharray="23.4 17.3"/>
<line x1="834.6" y1="402.0" x2="1551" y2="402.0" stroke="#ff0000" stroke-width="6" stroke-dasharray="23.4 17.3"/>
<line x1="1626" y1="242.7" x2="2340" y2="242.7" stroke="#000000" stroke-width="6" stroke-dasharray="22.1 18.62"/>
<line x1="1626" y1="401.0" x2="2340" y2="401.0" stroke="#000000" stroke-width="6" stroke-dasharray="22.1 18.62"/>
<text x="17.78" y="58.40" font-family="&quot;Liberation Sans&quot;, sans-serif" font-size="71.00" fill="#ffffff">a</text>
<text transform="translate(803.36 72.30) scale(1 1.0300)" font-family="&quot;Liberation Sans&quot;, sans-serif" font-size="72.00" fill="#ffffff">b</text>
<text x="1592.88" y="59.80" font-family="&quot;Liberation Sans&quot;, sans-serif" font-size="73.50" fill="#ffffff">c</text>
<text transform="translate(1698.69 76.50) scale(1 1.0550)" font-family="&quot;Liberation Sans&quot;, sans-serif" font-size="72.80" fill="#ffc000">Sr</text>
<text transform="translate(2177.89 78.90) scale(1 1.0550)" font-family="&quot;Liberation Sans&quot;, sans-serif" font-size="72.80" fill="#ffc000">Sr</text>
<text transform="translate(1917.46 183.40) scale(1 1.0550)" font-family="&quot;Liberation Sans&quot;, sans-serif" font-size="72.80" fill="#ffc000">Ti+0</text>
<text transform="translate(1740.76 219.50) scale(1 1.0550)" font-family="&quot;Liberation Sans&quot;, sans-serif" font-size="72.80" fill="#ffc000">0</text>
<text transform="translate(2173.96 230.70) scale(1 1.0550)" font-family="&quot;Liberation Sans&quot;, sans-serif" font-size="72.80" fill="#ffc000">0</text>
<text transform="translate(1596.36 516.60) scale(1 1.0550)" font-family="&quot;Liberation Sans&quot;, sans-serif" font-size="72.80" fill="#ffc000">Ti+0</text>
<text transform="translate(1950.99 507.70) scale(1 1.0550)" font-family="&quot;Liberation Sans&quot;, sans-serif" font-size="72.80" fill="#ffc000">Sr</text>
<text transform="translate(2211.76 510.30) scale(1 1.0550)" font-family="&quot;Liberation Sans&quot;, sans-serif" font-size="72.80" fill="#ffc000">Ti+0</text>
<text transform="translate(1746.96 632.00) scale(1 1.0550)" font-family="&quot;Liberation Sans&quot;, sans-serif" font-size="72.80" fill="#ffc000">0</text>
<text transform="translate(2165.66 631.00) scale(1 1.0550)" font-family="&quot;Liberation Sans&quot;, sans-serif" font-size="72.80" fill="#ffc000">0</text>
<text transform="translate(1897.36 682.70) scale(1 1.0550)" font-family="&quot;Liberation Sans&quot;, sans-serif" font-size="72.80" fill="#ffc000">Ti+0</text>
<text transform="translate(1695.69 785.30) scale(1 1.0550)" font-family="&quot;Liberation Sans&quot;, sans-serif" font-size="72.80" fill="#ffc000">Sr</text>
<text transform="translate(2192.46 786.30) scale(1 1.0550)" font-family="&quot;Liberation Sans&quot;, sans-serif" font-size="72.80" fill="#ffc000">Sr</text>
<rect x="22.3" y="849.0" width="51.0" height="772.5" fill="url(#cbg)" stroke="#111" stroke-width="3.2"/>
<line x1="73.3" y1="1009.8" x2="81" y2="1009.8" stroke="#111" stroke-width="3"/>
<line x1="73.3" y1="1212.4" x2="81" y2="1212.4" stroke="#111" stroke-width="3"/>
<line x1="73.3" y1="1414.2" x2="81" y2="1414.2" stroke="#111" stroke-width="3"/>
<line x1="73.3" y1="1620.5" x2="81" y2="1620.5" stroke="#111" stroke-width="3"/>
<text transform="translate(80.65 1031.40) scale(1 1.0500)" font-family="&quot;Liberation Sans&quot;, sans-serif" font-size="59.00" fill="#000" stroke="#ffffff" stroke-width="0.9">30</text>
<text transform="translate(81.63 1235.80) scale(1 1.0500)" font-family="&quot;Liberation Sans&quot;, sans-serif" font-size="59.00" fill="#000" stroke="#ffffff" stroke-width="0.9">20</text>
<text transform="translate(82.81 1435.70) scale(1 1.0500)" font-family="&quot;Liberation Sans&quot;, sans-serif" font-size="59.00" fill="#000" stroke="#ffffff" stroke-width="0.9">10</text>
<text transform="translate(87.60 1639.00) scale(1 1.0500)" font-family="&quot;Liberation Sans&quot;, sans-serif" font-size="59.00" fill="#000" stroke="#ffffff" stroke-width="0.9">0</text>
<rect x="166.5" y="810.5" width="2194.5" height="835.5" fill="none" stroke="#1a1a1a" stroke-width="4.2"/>
<polyline points="1473.3,810.5 1473.3,966.6 1669.3,966.6 1669.3,810.5" fill="none" stroke="#1a1a1a" stroke-width="4.0"/>
<line x1="1569.5" y1="966.6" x2="1569.5" y2="1646.0" stroke="#1a1a1a" stroke-width="4.0"/>
<line x1="168" y1="850.0" x2="1244.5" y2="850.0" stroke="#ff2020" stroke-width="3.4"/>
<line x1="168" y1="1014.3" x2="1241.5" y2="1014.3" stroke="#ffc040" stroke-width="3.4"/>
<line x1="168" y1="1461.3" x2="1242" y2="1461.3" stroke="#70a8e0" stroke-width="3.4"/>
<polyline points="293.0,1624.79 294.0,1624.71 295.0,1624.63 296.0,1624.53 297.0,1624.42 298.0,1624.29 299.0,1624.15 300.0,1623.99 301.0,1623.81 302.0,1623.61 303.0,1623.39 304.0,1623.14 305.0,1622.86 306.0,1622.54 307.0,1622.19 308.0,1621.81 309.0,1621.37 310.0,1620.89 311.0,1620.36 312.0,1619.77 313.0,1619.12 314.0,1618.41 315.0,1617.62 316.0,1616.75 317.0,1615.79 318.0,1614.74 319.0,1613.59 320.0,1612.33 321.0,1610.96 322.0,1609.46 323.0,1607.82 324.0,1606.04 325.0,1604.11 326.0,1602.02 327.0,1599.75 328.0,1597.29 329.0,1594.64 330.0,1591.78 331.0,1588.71 332.0,1585.40 333.0,1581.84 334.0,1578.04 335.0,1573.96 336.0,1569.61 337.0,1564.96 338.0,1560.01 339.0,1554.74 340.0,1549.15 341.0,1543.22 342.0,1536.94 343.0,1530.30 344.0,1523.29 345.0,1515.91 346.0,1508.14 347.0,1499.99 348.0,1491.43 349.0,1482.48 350.0,1473.12 351.0,1463.36 352.0,1453.19 353.0,1442.62 354.0,1431.65 355.0,1420.28 356.0,1408.52 357.0,1396.38 358.0,1383.88 359.0,1371.01 360.0,1357.80 361.0,1344.27 362.0,1330.43 363.0,1316.30 364.0,1301.92 365.0,1287.29 366.0,1272.46 367.0,1257.45 368.0,1242.29 369.0,1227.02 370.0,1211.67 371.0,1196.28 372.0,1180.89 373.0,1165.53 374.0,1150.26 375.0,1135.10 376.0,1120.11 377.0,1105.32 378.0,1090.79 379.0,1076.56 380.0,1062.67 381.0,1049.17 382.0,1036.10 383.0,1023.51 384.0,1011.43 385.0,999.91 386.0,988.99 387.0,978.72 388.0,969.11 389.0,960.22 390.0,952.07 391.0,944.70 392.0,938.12 393.0,932.37 394.0,927.47 395.0,923.43 396.0,920.28 397.0,918.01 398.0,916.65 399.0,916.20 400.0,916.65 401.0,918.01 402.0,920.28 403.0,923.43 404.0,927.47 405.0,932.37 406.0,938.12 407.0,944.70 408.0,952.07 409.0,960.22 410.0,969.11 411.0,978.72 412.0,988.99 413.0,999.91 414.0,1011.43 415.0,1023.51 416.0,1036.10 417.0,1049.17 418.0,1062.67 419.0,1076.56 420.0,1090.79 421.0,1105.32 422.0,1120.11 423.0,1135.10 424.0,1150.26 425.0,1165.53 426.0,1180.89 427.0,1196.28 428.0,1211.67 429.0,1227.02 430.0,1242.29 431.0,1257.45 432.0,1272.46 433.0,1287.29 434.0,1301.92 435.0,1316.30 436.0,1330.43 437.0,1344.27 438.0,1357.80 439.0,1371.01 440.0,1383.88 441.0,1396.38 442.0,1408.52 443.0,1420.28 444.0,1431.65 445.0,1442.62 446.0,1453.19 447.0,1463.36 448.0,1473.12 449.0,1482.48 450.0,1491.43 451.0,1499.99 452.0,1508.14 453.0,1515.91 454.0,1523.29 455.0,1530.30 456.0,1536.94 457.0,1543.22 458.0,1549.15 459.0,1554.74 460.0,1560.01 461.0,1564.96 462.0,1569.61 463.0,1573.96 464.0,1578.04 465.0,1581.84 466.0,1585.40 467.0,1588.71 468.0,1591.78 469.0,1594.64 470.0,1597.29 471.0,1599.75 472.0,1602.02 473.0,1604.11 474.0,1606.04 475.0,1607.82 476.0,1609.45 477.0,1610.95 478.0,1612.33 479.0,1613.59 480.0,1614.73 481.0,1615.78 482.0,1616.74 483.0,1617.61 484.0,1618.40 485.0,1619.11 486.0,1619.76 487.0,1620.35 488.0,1620.88 489.0,1621.35 490.0,1621.78 491.0,1622.16 492.0,1622.51 493.0,1622.82 494.0,1623.09 495.0,1623.33 496.0,1623.55 497.0,1623.74 498.0,1623.91 499.0,1624.05 500.0,1624.18 501.0,1624.28 502.0,1624.38 503.0,1624.45 504.0,1624.51 505.0,1624.56 506.0,1624.59 507.0,1624.61 508.0,1624.62 509.0,1624.62 510.0,1624.60 511.0,1624.58 512.0,1624.54 513.0,1624.49 514.0,1624.43 515.0,1624.35 516.0,1624.26 517.0,1624.15 518.0,1624.03 519.0,1623.90 520.0,1623.75 521.0,1623.57 522.0,1623.38 523.0,1623.17 524.0,1622.93 525.0,1622.67 526.0,1622.39 527.0,1622.07 528.0,1621.73 529.0,1621.36 530.0,1620.95 531.0,1620.51 532.0,1620.03 533.0,1619.51 534.0,1618.94 535.0,1618.34 536.0,1617.69 537.0,1616.99 538.0,1616.23 539.0,1615.43 540.0,1614.57 541.0,1613.66 542.0,1612.68 543.0,1611.65 544.0,1610.55 545.0,1609.39 546.0,1608.17 547.0,1606.88 548.0,1605.52 549.0,1604.10 550.0,1602.61 551.0,1601.05 552.0,1599.42 553.0,1597.73 554.0,1595.97 555.0,1594.15 556.0,1592.27 557.0,1590.33 558.0,1588.33 559.0,1586.28 560.0,1584.17 561.0,1582.02 562.0,1579.83 563.0,1577.60 564.0,1575.34 565.0,1573.06 566.0,1570.75 567.0,1568.43 568.0,1566.10 569.0,1563.77 570.0,1561.45 571.0,1559.14 572.0,1556.85 573.0,1554.60 574.0,1552.38 575.0,1550.21 576.0,1548.09 577.0,1546.04 578.0,1544.06 579.0,1542.16 580.0,1540.34 581.0,1538.62 582.0,1537.00 583.0,1535.49 584.0,1534.09 585.0,1532.81 586.0,1531.66 587.0,1530.65 588.0,1529.77 589.0,1529.03 590.0,1528.43 591.0,1527.98 592.0,1527.68 593.0,1527.53 594.0,1527.53 595.0,1527.68 596.0,1527.98 597.0,1528.43 598.0,1529.03 599.0,1529.77 600.0,1530.65 601.0,1531.66 602.0,1532.81 603.0,1534.09 604.0,1535.49 605.0,1537.00 606.0,1538.62 607.0,1540.34 608.0,1542.16 609.0,1544.06 610.0,1546.04 611.0,1548.09 612.0,1550.21 613.0,1552.38 614.0,1554.60 615.0,1556.85 616.0,1559.14 617.0,1561.45 618.0,1563.77 619.0,1566.10 620.0,1568.43 621.0,1570.75 622.0,1573.06 623.0,1575.34 624.0,1577.60 625.0,1579.83 626.0,1582.02 627.0,1584.17 628.0,1586.28 629.0,1588.33 630.0,1590.33 631.0,1592.27 632.0,1594.15 633.0,1595.97 634.0,1597.73 635.0,1599.42 636.0,1601.05 637.0,1602.61 638.0,1604.10 639.0,1605.52 640.0,1606.88 641.0,1608.17 642.0,1609.39 643.0,1610.55 644.0,1611.65 645.0,1612.68 646.0,1613.65 647.0,1614.57 648.0,1615.43 649.0,1616.23 650.0,1616.98 651.0,1617.68 652.0,1618.34 653.0,1618.94 654.0,1619.50 655.0,1620.02 656.0,1620.50 657.0,1620.95 658.0,1621.35 659.0,1621.73 660.0,1622.07 661.0,1622.38 662.0,1622.67 663.0,1622.92 664.0,1623.16 665.0,1623.37 666.0,1623.56 667.0,1623.73 668.0,1623.88 669.0,1624.01 670.0,1624.13 671.0,1624.23 672.0,1624.32 673.0,1624.39 674.0,1624.44 675.0,1624.49 676.0,1624.52 677.0,1624.54 678.0,1624.55 679.0,1624.54 680.0,1624.52 681.0,1624.49 682.0,1624.44 683.0,1624.38 684.0,1624.30 685.0,1624.21 686.0,1624.10 687.0,1623.97 688.0,1623.82 689.0,1623.65 690.0,1623.46 691.0,1623.23 692.0,1622.98 693.0,1622.70 694.0,1622.39 695.0,1622.03 696.0,1621.64 697.0,1621.20 698.0,1620.71 699.0,1620.17 700.0,1619.58 701.0,1618.92 702.0,1618.19 703.0,1617.38 704.0,1616.50 705.0,1615.53 706.0,1614.47 707.0,1613.30 708.0,1612.03 709.0,1610.64 710.0,1609.12 711.0,1607.47 712.0,1605.67 713.0,1603.72 714.0,1601.61 715.0,1599.32 716.0,1596.84 717.0,1594.17 718.0,1591.28 719.0,1588.18 720.0,1584.85 721.0,1581.27 722.0,1577.43 723.0,1573.32 724.0,1568.93 725.0,1564.24 726.0,1559.25 727.0,1553.94 728.0,1548.29 729.0,1542.30 730.0,1535.96 731.0,1529.25 732.0,1522.16 733.0,1514.69 734.0,1506.83 735.0,1498.56 736.0,1489.88 737.0,1480.79 738.0,1471.28 739.0,1461.34 740.0,1450.98 741.0,1440.20 742.0,1428.99 743.0,1417.36 744.0,1405.31 745.0,1392.86 746.0,1380.00 747.0,1366.75 748.0,1353.12 749.0,1339.13 750.0,1324.80 751.0,1310.13 752.0,1295.16 753.0,1279.90 754.0,1264.39 755.0,1248.64 756.0,1232.70 757.0,1216.58 758.0,1200.33 759.0,1183.99 760.0,1167.58 761.0,1151.14 762.0,1134.73 763.0,1118.37 764.0,1102.12 765.0,1086.01 766.0,1070.09 767.0,1054.42 768.0,1039.02 769.0,1023.96 770.0,1009.27 771.0,995.00 772.0,981.20 773.0,967.91 774.0,955.18 775.0,943.04 776.0,931.55 777.0,920.73 778.0,910.63 779.0,901.29 780.0,892.72 781.0,884.98 782.0,878.07 783.0,872.04 784.0,866.89 785.0,862.66 786.0,859.35 787.0,856.97 788.0,855.54 789.0,855.07 790.0,855.54 791.0,856.97 792.0,859.35 793.0,862.66 794.0,866.89 795.0,872.04 796.0,878.07 797.0,884.98 798.0,892.72 799.0,901.29 800.0,910.63 801.0,920.73 802.0,931.55 803.0,943.04 804.0,955.18 805.0,967.91 806.0,981.20 807.0,995.00 808.0,1009.27 809.0,1023.96 810.0,1039.02 811.0,1054.42 812.0,1070.09 813.0,1086.01 814.0,1102.12 815.0,1118.37 816.0,1134.73 817.0,1151.14 818.0,1167.58 819.0,1183.99 820.0,1200.33 821.0,1216.58 822.0,1232.70 823.0,1248.64 824.0,1264.39 825.0,1279.90 826.0,1295.16 827.0,1310.13 828.0,1324.80 829.0,1339.13 830.0,1353.12 831.0,1366.75 832.0,1380.00 833.0,1392.86 834.0,1405.31 835.0,1417.36 836.0,1428.99 837.0,1440.20 838.0,1450.98 839.0,1461.34 840.0,1471.28 841.0,1480.79 842.0,1489.88 843.0,1498.56 844.0,1506.83 845.0,1514.69 846.0,1522.16 847.0,1529.25 848.0,1535.96 849.0,1542.30 850.0,1548.29 851.0,1553.94 852.0,1559.25 853.0,1564.24 854.0,1568.93 855.0,1573.32 856.0,1577.43 857.0,1581.27 858.0,1584.85 859.0,1588.18 860.0,1591.28 861.0,1594.17 862.0,1596.84 863.0,1599.32 864.0,1601.61 865.0,1603.72 866.0,1605.67 867.0,1607.47 868.0,1609.12 869.0,1610.64 870.0,1612.03 871.0,1613.30 872.0,1614.47 873.0,1615.53 874.0,1616.50 875.0,1617.38 876.0,1618.19 877.0,1618.91 878.0,1619.57 879.0,1620.17 880.0,1620.71 881.0,1621.20 882.0,1621.64 883.0,1622.03 884.0,1622.38 885.0,1622.70 886.0,1622.98 887.0,1623.23 888.0,1623.45 889.0,1623.64 890.0,1623.81 891.0,1623.96 892.0,1624.09 893.0,1624.20 894.0,1624.29 895.0,1624.36 896.0,1624.42 897.0,1624.46 898.0,1624.49 899.0,1624.51 900.0,1624.51 901.0,1624.50 902.0,1624.48 903.0,1624.44 904.0,1624.39 905.0,1624.32 906.0,1624.24 907.0,1624.15 908.0,1624.04 909.0,1623.91 910.0,1623.77 911.0,1623.61 912.0,1623.42 913.0,1623.22 914.0,1622.99 915.0,1622.74 916.0,1622.47 917.0,1622.16 918.0,1621.83 919.0,1621.46 920.0,1621.07 921.0,1620.63 922.0,1620.16 923.0,1619.65 924.0,1619.10 925.0,1618.51 926.0,1617.86 927.0,1617.17 928.0,1616.43 929.0,1615.64 930.0,1614.79 931.0,1613.89 932.0,1612.92 933.0,1611.90 934.0,1610.81 935.0,1609.66 936.0,1608.44 937.0,1607.16 938.0,1605.81 939.0,1604.39 940.0,1602.90 941.0,1601.34 942.0,1599.72 943.0,1598.03 944.0,1596.27 945.0,1594.44 946.0,1592.55 947.0,1590.60 948.0,1588.59 949.0,1586.52 950.0,1584.40 951.0,1582.23 952.0,1580.01 953.0,1577.75 954.0,1575.46 955.0,1573.14 956.0,1570.79 957.0,1568.43 958.0,1566.05 959.0,1563.67 960.0,1561.30 961.0,1558.93 962.0,1556.59 963.0,1554.27 964.0,1551.99 965.0,1549.75 966.0,1547.56 967.0,1545.43 968.0,1543.37 969.0,1541.38 970.0,1539.49 971.0,1537.68 972.0,1535.97 973.0,1534.37 974.0,1532.89 975.0,1531.52 976.0,1530.28 977.0,1529.18 978.0,1528.21 979.0,1527.38 980.0,1526.70 981.0,1526.16 982.0,1525.78 983.0,1525.55 984.0,1525.47 985.0,1525.55 986.0,1525.78 987.0,1526.16 988.0,1526.70 989.0,1527.38 990.0,1528.21 991.0,1529.18 992.0,1530.28 993.0,1531.52 994.0,1532.89 995.0,1534.37 996.0,1535.97 997.0,1537.68 998.0,1539.49 999.0,1541.38 1000.0,1543.37 1001.0,1545.43 1002.0,1547.56 1003.0,1549.75 1004.0,1551.99 1005.0,1554.27 1006.0,1556.59 1007.0,1558.93 1008.0,1561.30 1009.0,1563.67 1010.0,1566.05 1011.0,1568.43 1012.0,1570.79 1013.0,1573.14 1014.0,1575.46 1015.0,1577.75 1016.0,1580.01 1017.0,1582.23 1018.0,1584.40 1019.0,1586.52 1020.0,1588.59 1021.0,1590.60 1022.0,1592.55 1023.0,1594.44 1024.0,1596.27 1025.0,1598.03 1026.0,1599.72 1027.0,1601.35 1028.0,1602.90 1029.0,1604.39 1030.0,1605.81 1031.0,1607.16 1032.0,1608.44 1033.0,1609.66 1034.0,1610.81 1035.0,1611.90 1036.0,1612.92 1037.0,1613.89 1038.0,1614.79 1039.0,1615.64 1040.0,1616.44 1041.0,1617.18 1042.0,1617.87 1043.0,1618.51 1044.0,1619.11 1045.0,1619.66 1046.0,1620.17 1047.0,1620.64 1048.0,1621.07 1049.0,1621.47 1050.0,1621.84 1051.0,1622.17 1052.0,1622.48 1053.0,1622.76 1054.0,1623.01 1055.0,1623.24 1056.0,1623.45 1057.0,1623.64 1058.0,1623.80 1059.0,1623.95 1060.0,1624.09 1061.0,1624.20 1062.0,1624.31 1063.0,1624.39 1064.0,1624.47 1065.0,1624.53 1066.0,1624.58 1067.0,1624.62 1068.0,1624.64 1069.0,1624.66 1070.0,1624.66 1071.0,1624.66 1072.0,1624.64 1073.0,1624.61 1074.0,1624.56 1075.0,1624.51 1076.0,1624.44 1077.0,1624.35 1078.0,1624.25 1079.0,1624.13 1080.0,1624.00 1081.0,1623.84 1082.0,1623.66 1083.0,1623.46 1084.0,1623.22 1085.0,1622.96 1086.0,1622.67 1087.0,1622.34 1088.0,1621.98 1089.0,1621.57 1090.0,1621.11 1091.0,1620.61 1092.0,1620.04 1093.0,1619.42 1094.0,1618.74 1095.0,1617.98 1096.0,1617.14 1097.0,1616.22 1098.0,1615.21 1099.0,1614.10 1100.0,1612.88 1101.0,1611.55 1102.0,1610.10 1103.0,1608.52 1104.0,1606.79 1105.0,1604.92 1106.0,1602.88 1107.0,1600.67 1108.0,1598.28 1109.0,1595.69 1110.0,1592.90 1111.0,1589.90 1112.0,1586.66 1113.0,1583.19 1114.0,1579.46 1115.0,1575.46 1116.0,1571.19 1117.0,1566.63 1118.0,1561.76 1119.0,1556.58 1120.0,1551.08 1121.0,1545.23 1122.0,1539.04 1123.0,1532.50 1124.0,1525.58 1125.0,1518.29 1126.0,1510.61 1127.0,1502.54 1128.0,1494.07 1129.0,1485.20 1130.0,1475.92 1131.0,1466.24 1132.0,1456.15 1133.0,1445.65 1134.0,1434.75 1135.0,1423.44 1136.0,1411.74 1137.0,1399.66 1138.0,1387.20 1139.0,1374.38 1140.0,1361.21 1141.0,1347.71 1142.0,1333.90 1143.0,1319.79 1144.0,1305.42 1145.0,1290.80 1146.0,1275.97 1147.0,1260.96 1148.0,1245.79 1149.0,1230.50 1150.0,1215.12 1151.0,1199.70 1152.0,1184.27 1153.0,1168.88 1154.0,1153.55 1155.0,1138.35 1156.0,1123.30 1157.0,1108.46 1158.0,1093.87 1159.0,1079.57 1160.0,1065.61 1161.0,1052.04 1162.0,1038.90 1163.0,1026.24 1164.0,1014.09 1165.0,1002.51 1166.0,991.52 1167.0,981.18 1168.0,971.52 1169.0,962.57 1170.0,954.36 1171.0,946.94 1172.0,940.32 1173.0,934.53 1174.0,929.59 1175.0,925.52 1176.0,922.35 1177.0,920.07 1178.0,918.69 1179.0,918.24 1180.0,918.69 1181.0,920.07 1182.0,922.35 1183.0,925.52 1184.0,929.59 1185.0,934.53 1186.0,940.32 1187.0,946.94 1188.0,954.36 1189.0,962.57 1190.0,971.52 1191.0,981.18 1192.0,991.52 1193.0,1002.51 1194.0,1014.09 1195.0,1026.24 1196.0,1038.90 1197.0,1052.04 1198.0,1065.61 1199.0,1079.57 1200.0,1093.87 1201.0,1108.46 1202.0,1123.30 1203.0,1138.35 1204.0,1153.55 1205.0,1168.88 1206.0,1184.27 1207.0,1199.70 1208.0,1215.12 1209.0,1230.50 1210.0,1245.79 1211.0,1260.96 1212.0,1275.97 1213.0,1290.80 1214.0,1305.42 1215.0,1319.79 1216.0,1333.90 1217.0,1347.71 1218.0,1361.21 1219.0,1374.38 1220.0,1387.20 1221.0,1399.66 1222.0,1411.74 1223.0,1423.44 1224.0,1434.75 1225.0,1445.65 1226.0,1456.15 1227.0,1466.24 1228.0,1475.92 1229.0,1485.20 1230.0,1494.07 1231.0,1502.54 1232.0,1510.61 1233.0,1518.29 1234.0,1525.58 1235.0,1532.50 1236.0,1539.04 1237.0,1545.23 1238.0,1551.08 1239.0,1556.58 1240.0,1561.76 1241.0,1566.63 1242.0,1571.19 1243.0,1575.46 1244.0,1579.46 1245.0,1583.19 1246.0,1586.66 1247.0,1589.90 1248.0,1592.91 1249.0,1595.70 1250.0,1598.28 1251.0,1600.67 1252.0,1602.88 1253.0,1604.92 1254.0,1606.79 1255.0,1608.52 1256.0,1610.10 1257.0,1611.56 1258.0,1612.89 1259.0,1614.10 1260.0,1615.21 1261.0,1616.22 1262.0,1617.15 1263.0,1617.98 1264.0,1618.74 1265.0,1619.43 1266.0,1620.06 1267.0,1620.62 1268.0,1621.13 1269.0,1621.59 1270.0,1622.00 1271.0,1622.37 1272.0,1622.70 1273.0,1623.00 1274.0,1623.27 1275.0,1623.51 1276.0,1623.72 1277.0,1623.91 1278.0,1624.08 1279.0,1624.23 1280.0,1624.36 1281.0,1624.48 1282.0,1624.58" fill="none" stroke="#ff1a1a" stroke-width="3.4" stroke-linejoin="round"/>
<polyline points="293.0,1619.89 294.0,1619.85 295.0,1619.81 296.0,1619.76 297.0,1619.71 298.0,1619.65 299.0,1619.59 300.0,1619.52 301.0,1619.44 302.0,1619.35 303.0,1619.26 304.0,1619.15 305.0,1619.04 306.0,1618.91 307.0,1618.77 308.0,1618.62 309.0,1618.45 310.0,1618.26 311.0,1618.06 312.0,1617.83 313.0,1617.59 314.0,1617.32 315.0,1617.02 316.0,1616.70 317.0,1616.35 318.0,1615.96 319.0,1615.54 320.0,1615.08 321.0,1614.57 322.0,1614.03 323.0,1613.43 324.0,1612.78 325.0,1612.07 326.0,1611.30 327.0,1610.47 328.0,1609.56 329.0,1608.57 330.0,1607.51 331.0,1606.35 332.0,1605.10 333.0,1603.74 334.0,1602.28 335.0,1600.70 336.0,1598.99 337.0,1597.15 338.0,1595.17 339.0,1593.03 340.0,1590.74 341.0,1588.27 342.0,1585.61 343.0,1582.77 344.0,1579.71 345.0,1576.44 346.0,1572.94 347.0,1569.20 348.0,1565.20 349.0,1560.93 350.0,1556.38 351.0,1551.53 352.0,1546.36 353.0,1540.87 354.0,1535.04 355.0,1528.85 356.0,1522.28 357.0,1515.33 358.0,1507.98 359.0,1500.21 360.0,1492.01 361.0,1483.37 362.0,1474.27 363.0,1464.69 364.0,1454.64 365.0,1444.09 366.0,1433.03 367.0,1421.47 368.0,1409.38 369.0,1396.78 370.0,1383.64 371.0,1369.98 372.0,1355.79 373.0,1341.08 374.0,1325.86 375.0,1310.13 376.0,1293.91 377.0,1277.23 378.0,1260.09 379.0,1242.53 380.0,1224.57 381.0,1206.27 382.0,1187.65 383.0,1168.77 384.0,1149.69 385.0,1130.47 386.0,1111.18 387.0,1091.89 388.0,1072.72 389.0,1053.74 390.0,1035.08 391.0,1016.86 392.0,999.24 393.0,982.37 394.0,966.45 395.0,951.71 396.0,938.44 397.0,927.03 398.0,918.08 399.0,913.14 400.0,918.08 401.0,927.03 402.0,938.44 403.0,951.71 404.0,966.45 405.0,982.37 406.0,999.24 407.0,1016.86 408.0,1035.08 409.0,1053.74 410.0,1072.72 411.0,1091.89 412.0,1111.18 413.0,1130.47 414.0,1149.69 415.0,1168.77 416.0,1187.65 417.0,1206.27 418.0,1224.57 419.0,1242.53 420.0,1260.09 421.0,1277.23 422.0,1293.91 423.0,1310.13 424.0,1325.86 425.0,1341.08 426.0,1355.79 427.0,1369.98 428.0,1383.64 429.0,1396.78 430.0,1409.38 431.0,1421.47 432.0,1433.03 433.0,1444.09 434.0,1454.64 435.0,1464.69 436.0,1474.27 437.0,1483.37 438.0,1492.01 439.0,1500.21 440.0,1507.98 441.0,1515.33 442.0,1522.28 443.0,1528.85 444.0,1535.04 445.0,1540.87 446.0,1546.36 447.0,1551.53 448.0,1556.38 449.0,1560.93 450.0,1565.20 451.0,1569.20 452.0,1572.94 453.0,1576.44 454.0,1579.71 455.0,1582.77 456.0,1585.61 457.0,1588.27 458.0,1590.74 459.0,1593.03 460.0,1595.17 461.0,1597.15 462.0,1598.99 463.0,1600.70 464.0,1602.28 465.0,1603.74 466.0,1605.10 467.0,1606.35 468.0,1607.51 469.0,1608.57 470.0,1609.56 471.0,1610.47 472.0,1611.30 473.0,1612.07 474.0,1612.78 475.0,1613.43 476.0,1614.03 477.0,1614.57 478.0,1615.08 479.0,1615.54 480.0,1615.96 481.0,1616.35 482.0,1616.70 483.0,1617.02 484.0,1617.32 485.0,1617.58 486.0,1617.83 487.0,1618.05 488.0,1618.26 489.0,1618.44 490.0,1618.61 491.0,1618.77 492.0,1618.90 493.0,1619.03 494.0,1619.15 495.0,1619.25 496.0,1619.34 497.0,1619.43 498.0,1619.50 499.0,1619.57 500.0,1619.63 501.0,1619.69 502.0,1619.74 503.0,1619.78 504.0,1619.82 505.0,1619.86 506.0,1619.89 507.0,1619.91 508.0,1619.93 509.0,1619.95 510.0,1619.97 511.0,1619.98 512.0,1619.99 513.0,1619.99 514.0,1619.99 515.0,1619.99 516.0,1619.99 517.0,1619.98 518.0,1619.97 519.0,1619.95 520.0,1619.93 521.0,1619.91 522.0,1619.88 523.0,1619.85 524.0,1619.81 525.0,1619.77 526.0,1619.72 527.0,1619.67 528.0,1619.60 529.0,1619.53 530.0,1619.45 531.0,1619.36 532.0,1619.26 533.0,1619.15 534.0,1619.02 535.0,1618.88 536.0,1618.73 537.0,1618.55 538.0,1618.36 539.0,1618.15 540.0,1617.92 541.0,1617.67 542.0,1617.38 543.0,1617.07 544.0,1616.73 545.0,1616.36 546.0,1615.95 547.0,1615.51 548.0,1615.02 549.0,1614.49 550.0,1613.90 551.0,1613.27 552.0,1612.59 553.0,1611.84 554.0,1611.03 555.0,1610.16 556.0,1609.22 557.0,1608.20 558.0,1607.11 559.0,1605.93 560.0,1604.66 561.0,1603.31 562.0,1601.86 563.0,1600.31 564.0,1598.66 565.0,1596.90 566.0,1595.04 567.0,1593.06 568.0,1590.97 569.0,1588.77 570.0,1586.45 571.0,1584.01 572.0,1581.45 573.0,1578.78 574.0,1576.00 575.0,1573.10 576.0,1570.11 577.0,1567.01 578.0,1563.82 579.0,1560.56 580.0,1557.22 581.0,1553.83 582.0,1550.41 583.0,1546.96 584.0,1543.51 585.0,1540.09 586.0,1536.73 587.0,1533.46 588.0,1530.31 589.0,1527.34 590.0,1524.60 591.0,1522.17 592.0,1520.14 593.0,1518.69 594.0,1518.69 595.0,1520.14 596.0,1522.17 597.0,1524.60 598.0,1527.34 599.0,1530.31 600.0,1533.46 601.0,1536.73 602.0,1540.09 603.0,1543.51 604.0,1546.96 605.0,1550.41 606.0,1553.83 607.0,1557.22 608.0,1560.56 609.0,1563.82 610.0,1567.01 611.0,1570.11 612.0,1573.10 613.0,1576.00 614.0,1578.78 615.0,1581.45 616.0,1584.01 617.0,1586.45 618.0,1588.77 619.0,1590.97 620.0,1593.06 621.0,1595.04 622.0,1596.90 623.0,1598.66 624.0,1600.31 625.0,1601.86 626.0,1603.31 627.0,1604.66 628.0,1605.93 629.0,1607.11 630.0,1608.20 631.0,1609.22 632.0,1610.16 633.0,1611.04 634.0,1611.84 635.0,1612.59 636.0,1613.27 637.0,1613.91 638.0,1614.49 639.0,1615.02 640.0,1615.51 641.0,1615.96 642.0,1616.36 643.0,1616.74 644.0,1617.08 645.0,1617.39 646.0,1617.67 647.0,1617.93 648.0,1618.16 649.0,1618.37 650.0,1618.56 651.0,1618.73 652.0,1618.89 653.0,1619.03 654.0,1619.16 655.0,1619.27 656.0,1619.37 657.0,1619.46 658.0,1619.54 659.0,1619.62 660.0,1619.68 661.0,1619.74 662.0,1619.79 663.0,1619.84 664.0,1619.88 665.0,1619.92 666.0,1619.95 667.0,1619.98 668.0,1620.00 669.0,1620.02 670.0,1620.04 671.0,1620.05 672.0,1620.06 673.0,1620.07 674.0,1620.08 675.0,1620.08 676.0,1620.09 677.0,1620.08 678.0,1620.08 679.0,1620.08 680.0,1620.07 681.0,1620.06 682.0,1620.05 683.0,1620.04 684.0,1620.02 685.0,1620.00 686.0,1619.98 687.0,1619.95 688.0,1619.92 689.0,1619.89 690.0,1619.85 691.0,1619.81 692.0,1619.76 693.0,1619.70 694.0,1619.64 695.0,1619.57 696.0,1619.50 697.0,1619.41 698.0,1619.32 699.0,1619.21 700.0,1619.09 701.0,1618.96 702.0,1618.82 703.0,1618.66 704.0,1618.48 705.0,1618.28 706.0,1618.07 707.0,1617.83 708.0,1617.56 709.0,1617.27 710.0,1616.94 711.0,1616.59 712.0,1616.19 713.0,1615.76 714.0,1615.28 715.0,1614.76 716.0,1614.19 717.0,1613.56 718.0,1612.87 719.0,1612.11 720.0,1611.29 721.0,1610.38 722.0,1609.39 723.0,1608.31 724.0,1607.14 725.0,1605.85 726.0,1604.45 727.0,1602.93 728.0,1601.28 729.0,1599.48 730.0,1597.53 731.0,1595.42 732.0,1593.13 733.0,1590.65 734.0,1587.97 735.0,1585.07 736.0,1581.94 737.0,1578.57 738.0,1574.94 739.0,1571.03 740.0,1566.83 741.0,1562.32 742.0,1557.48 743.0,1552.29 744.0,1546.74 745.0,1540.80 746.0,1534.45 747.0,1527.69 748.0,1520.48 749.0,1512.80 750.0,1504.64 751.0,1495.98 752.0,1486.79 753.0,1477.06 754.0,1466.77 755.0,1455.91 756.0,1444.44 757.0,1432.38 758.0,1419.68 759.0,1406.36 760.0,1392.39 761.0,1377.77 762.0,1362.50 763.0,1346.57 764.0,1329.99 765.0,1312.77 766.0,1294.91 767.0,1276.43 768.0,1257.35 769.0,1237.69 770.0,1217.50 771.0,1196.81 772.0,1175.67 773.0,1154.13 774.0,1132.25 775.0,1110.12 776.0,1087.82 777.0,1065.43 778.0,1043.08 779.0,1020.88 780.0,998.98 781.0,977.52 782.0,956.69 783.0,936.69 784.0,917.77 785.0,900.20 786.0,884.35 787.0,870.70 788.0,859.98 789.0,854.05 790.0,859.98 791.0,870.70 792.0,884.35 793.0,900.20 794.0,917.77 795.0,936.69 796.0,956.69 797.0,977.52 798.0,998.98 799.0,1020.88 800.0,1043.08 801.0,1065.43 802.0,1087.82 803.0,1110.12 804.0,1132.25 805.0,1154.13 806.0,1175.67 807.0,1196.81 808.0,1217.50 809.0,1237.69 810.0,1257.35 811.0,1276.43 812.0,1294.91 813.0,1312.77 814.0,1329.99 815.0,1346.57 816.0,1362.50 817.0,1377.77 818.0,1392.39 819.0,1406.36 820.0,1419.68 821.0,1432.38 822.0,1444.44 823.0,1455.91 824.0,1466.77 825.0,1477.06 826.0,1486.79 827.0,1495.98 828.0,1504.64 829.0,1512.80 830.0,1520.48 831.0,1527.69 832.0,1534.45 833.0,1540.80 834.0,1546.74 835.0,1552.29 836.0,1557.48 837.0,1562.32 838.0,1566.83 839.0,1571.03 840.0,1574.94 841.0,1578.57 842.0,1581.94 843.0,1585.07 844.0,1587.97 845.0,1590.65 846.0,1593.13 847.0,1595.42 848.0,1597.53 849.0,1599.48 850.0,1601.28 851.0,1602.93 852.0,1604.45 853.0,1605.85 854.0,1607.14 855.0,1608.31 856.0,1609.39 857.0,1610.38 858.0,1611.29 859.0,1612.11 860.0,1612.87 861.0,1613.56 862.0,1614.19 863.0,1614.76 864.0,1615.28 865.0,1615.76 866.0,1616.19 867.0,1616.59 868.0,1616.94 869.0,1617.27 870.0,1617.56 871.0,1617.82 872.0,1618.07 873.0,1618.28 874.0,1618.48 875.0,1618.66 876.0,1618.82 877.0,1618.96 878.0,1619.09 879.0,1619.21 880.0,1619.32 881.0,1619.41 882.0,1619.50 883.0,1619.57 884.0,1619.64 885.0,1619.70 886.0,1619.76 887.0,1619.81 888.0,1619.85 889.0,1619.89 890.0,1619.92 891.0,1619.95 892.0,1619.98 893.0,1620.00 894.0,1620.02 895.0,1620.03 896.0,1620.05 897.0,1620.06 898.0,1620.07 899.0,1620.07 900.0,1620.08 901.0,1620.08 902.0,1620.08 903.0,1620.08 904.0,1620.07 905.0,1620.06 906.0,1620.05 907.0,1620.04 908.0,1620.02 909.0,1620.00 910.0,1619.98 911.0,1619.96 912.0,1619.93 913.0,1619.89 914.0,1619.85 915.0,1619.81 916.0,1619.76 917.0,1619.70 918.0,1619.64 919.0,1619.57 920.0,1619.49 921.0,1619.40 922.0,1619.30 923.0,1619.19 924.0,1619.07 925.0,1618.93 926.0,1618.78 927.0,1618.62 928.0,1618.43 929.0,1618.23 930.0,1618.00 931.0,1617.75 932.0,1617.48 933.0,1617.18 934.0,1616.85 935.0,1616.48 936.0,1616.08 937.0,1615.65 938.0,1615.17 939.0,1614.65 940.0,1614.08 941.0,1613.46 942.0,1612.79 943.0,1612.06 944.0,1611.27 945.0,1610.41 946.0,1609.49 947.0,1608.49 948.0,1607.41 949.0,1606.25 950.0,1605.01 951.0,1603.67 952.0,1602.24 953.0,1600.71 954.0,1599.08 955.0,1597.35 956.0,1595.50 957.0,1593.54 958.0,1591.47 959.0,1589.28 960.0,1586.97 961.0,1584.54 962.0,1581.99 963.0,1579.33 964.0,1576.55 965.0,1573.65 966.0,1570.65 967.0,1567.54 968.0,1564.33 969.0,1561.04 970.0,1557.67 971.0,1554.24 972.0,1550.76 973.0,1547.25 974.0,1543.73 975.0,1540.23 976.0,1536.76 977.0,1533.38 978.0,1530.10 979.0,1526.97 980.0,1524.05 981.0,1521.41 982.0,1519.11 983.0,1517.30 984.0,1516.30 985.0,1517.30 986.0,1519.11 987.0,1521.41 988.0,1524.05 989.0,1526.97 990.0,1530.10 991.0,1533.38 992.0,1536.76 993.0,1540.23 994.0,1543.73 995.0,1547.25 996.0,1550.76 997.0,1554.24 998.0,1557.67 999.0,1561.04 1000.0,1564.33 1001.0,1567.54 1002.0,1570.65 1003.0,1573.65 1004.0,1576.55 1005.0,1579.33 1006.0,1581.99 1007.0,1584.54 1008.0,1586.97 1009.0,1589.28 1010.0,1591.47 1011.0,1593.54 1012.0,1595.50 1013.0,1597.35 1014.0,1599.08 1015.0,1600.71 1016.0,1602.24 1017.0,1603.67 1018.0,1605.01 1019.0,1606.25 1020.0,1607.41 1021.0,1608.49 1022.0,1609.49 1023.0,1610.41 1024.0,1611.27 1025.0,1612.06 1026.0,1612.79 1027.0,1613.46 1028.0,1614.08 1029.0,1614.65 1030.0,1615.17 1031.0,1615.65 1032.0,1616.08 1033.0,1616.48 1034.0,1616.84 1035.0,1617.17 1036.0,1617.48 1037.0,1617.75 1038.0,1618.00 1039.0,1618.22 1040.0,1618.43 1041.0,1618.61 1042.0,1618.78 1043.0,1618.93 1044.0,1619.06 1045.0,1619.19 1046.0,1619.30 1047.0,1619.39 1048.0,1619.48 1049.0,1619.56 1050.0,1619.63 1051.0,1619.69 1052.0,1619.74 1053.0,1619.79 1054.0,1619.83 1055.0,1619.87 1056.0,1619.90 1057.0,1619.93 1058.0,1619.95 1059.0,1619.97 1060.0,1619.99 1061.0,1620.00 1062.0,1620.01 1063.0,1620.01 1064.0,1620.01 1065.0,1620.01 1066.0,1620.01 1067.0,1620.00 1068.0,1619.99 1069.0,1619.98 1070.0,1619.96 1071.0,1619.95 1072.0,1619.92 1073.0,1619.90 1074.0,1619.86 1075.0,1619.83 1076.0,1619.79 1077.0,1619.75 1078.0,1619.70 1079.0,1619.64 1080.0,1619.58 1081.0,1619.51 1082.0,1619.43 1083.0,1619.34 1084.0,1619.25 1085.0,1619.14 1086.0,1619.03 1087.0,1618.90 1088.0,1618.76 1089.0,1618.60 1090.0,1618.43 1091.0,1618.24 1092.0,1618.03 1093.0,1617.80 1094.0,1617.55 1095.0,1617.27 1096.0,1616.97 1097.0,1616.64 1098.0,1616.27 1099.0,1615.88 1100.0,1615.44 1101.0,1614.97 1102.0,1614.45 1103.0,1613.88 1104.0,1613.26 1105.0,1612.59 1106.0,1611.86 1107.0,1611.06 1108.0,1610.20 1109.0,1609.25 1110.0,1608.23 1111.0,1607.12 1112.0,1605.92 1113.0,1604.61 1114.0,1603.20 1115.0,1601.68 1116.0,1600.03 1117.0,1598.25 1118.0,1596.32 1119.0,1594.25 1120.0,1592.02 1121.0,1589.62 1122.0,1587.03 1123.0,1584.25 1124.0,1581.27 1125.0,1578.07 1126.0,1574.64 1127.0,1570.97 1128.0,1567.04 1129.0,1562.84 1130.0,1558.36 1131.0,1553.58 1132.0,1548.48 1133.0,1543.06 1134.0,1537.29 1135.0,1531.15 1136.0,1524.65 1137.0,1517.75 1138.0,1510.44 1139.0,1502.71 1140.0,1494.54 1141.0,1485.92 1142.0,1476.84 1143.0,1467.27 1144.0,1457.21 1145.0,1446.64 1146.0,1435.56 1147.0,1423.96 1148.0,1411.82 1149.0,1399.14 1150.0,1385.92 1151.0,1372.16 1152.0,1357.85 1153.0,1343.01 1154.0,1327.63 1155.0,1311.73 1156.0,1295.32 1157.0,1278.42 1158.0,1261.05 1159.0,1243.23 1160.0,1225.01 1161.0,1206.41 1162.0,1187.48 1163.0,1168.27 1164.0,1148.84 1165.0,1129.26 1166.0,1109.59 1167.0,1089.92 1168.0,1070.34 1169.0,1050.95 1170.0,1031.88 1171.0,1013.26 1172.0,995.23 1173.0,977.96 1174.0,961.66 1175.0,946.56 1176.0,932.96 1177.0,921.26 1178.0,912.10 1179.0,907.03 1180.0,912.10 1181.0,921.26 1182.0,932.96 1183.0,946.56 1184.0,961.66 1185.0,977.96 1186.0,995.23 1187.0,1013.26 1188.0,1031.88 1189.0,1050.95 1190.0,1070.34 1191.0,1089.92 1192.0,1109.59 1193.0,1129.26 1194.0,1148.84 1195.0,1168.27 1196.0,1187.48 1197.0,1206.41 1198.0,1225.01 1199.0,1243.23 1200.0,1261.05 1201.0,1278.42 1202.0,1295.32 1203.0,1311.73 1204.0,1327.63 1205.0,1343.01 1206.0,1357.85 1207.0,1372.16 1208.0,1385.92 1209.0,1399.14 1210.0,1411.82 1211.0,1423.96 1212.0,1435.56 1213.0,1446.64 1214.0,1457.21 1215.0,1467.27 1216.0,1476.84 1217.0,1485.92 1218.0,1494.54 1219.0,1502.71 1220.0,1510.44 1221.0,1517.75 1222.0,1524.65 1223.0,1531.15 1224.0,1537.29 1225.0,1543.06 1226.0,1548.48 1227.0,1553.58 1228.0,1558.36 1229.0,1562.84 1230.0,1567.04 1231.0,1570.97 1232.0,1574.64 1233.0,1578.07 1234.0,1581.27 1235.0,1584.25 1236.0,1587.03 1237.0,1589.62 1238.0,1592.02 1239.0,1594.25 1240.0,1596.32 1241.0,1598.25 1242.0,1600.03 1243.0,1601.68 1244.0,1603.20 1245.0,1604.61 1246.0,1605.92 1247.0,1607.12 1248.0,1608.23 1249.0,1609.25 1250.0,1610.20 1251.0,1611.06 1252.0,1611.86 1253.0,1612.59 1254.0,1613.26 1255.0,1613.88 1256.0,1614.45 1257.0,1614.97 1258.0,1615.44 1259.0,1615.88 1260.0,1616.28 1261.0,1616.64 1262.0,1616.97 1263.0,1617.27 1264.0,1617.55 1265.0,1617.80 1266.0,1618.03 1267.0,1618.24 1268.0,1618.43 1269.0,1618.60 1270.0,1618.76 1271.0,1618.90 1272.0,1619.03 1273.0,1619.15 1274.0,1619.25 1275.0,1619.35 1276.0,1619.44 1277.0,1619.52 1278.0,1619.59 1279.0,1619.65 1280.0,1619.71 1281.0,1619.76 1282.0,1619.81" fill="none" stroke="#1a1a1a" stroke-width="3.4" stroke-linejoin="round"/>
<line x1="491.6" y1="924" x2="413" y2="1054" stroke="#000" stroke-width="5"/>
<polyline points="413.3,1033 412.4,1056.3 434.7,1045" fill="none" stroke="#000" stroke-width="5.5" stroke-linejoin="round" stroke-linecap="round"/>
<polygon points="412.4,1056.3 413,1043 424.5,1050" fill="#000"/>
<line x1="561.4" y1="1087.6" x2="428" y2="1129" stroke="#ff0000" stroke-width="5"/>
<polyline points="445.5,1112.7 426,1129.5 452.1,1135" fill="none" stroke="#ff0000" stroke-width="5.5" stroke-linejoin="round" stroke-linecap="round"/>
<polygon points="426,1129.5 437,1120.5 441,1132" fill="#ff0000"/>
<text transform="translate(218.28 906.30) scale(1 1.0400)" font-family="&quot;Liberation Sans&quot;, sans-serif" font-size="61.50" fill="#000" stroke="#ffffff" stroke-width="0.9">Calcul ( 25 pm)</text>
<text transform="translate(538.66 1070.00) scale(1 1.0400)" font-family="&quot;Liberation Sans&quot;, sans-serif" font-size="61.50" fill="#ff0000" stroke="#ffffff" stroke-width="0.9">Exper</text>
<text transform="translate(1192.05 908.80) scale(1 1.0400)" font-family="&quot;Liberation Sans&quot;, sans-serif" font-size="61.50" fill="#ff0000" stroke="#ffffff" stroke-width="0.9">Z=38 (Sr)</text>
<text transform="translate(1213.55 1070.40) scale(1 1.0400)" font-family="&quot;Liberation Sans&quot;, sans-serif" font-size="61.50" fill="#ffb833" stroke="#ffffff" stroke-width="0.9">Z=30 (Ti+O)</text>
<text transform="translate(1245.25 1488.00) scale(1 1.0400)" font-family="&quot;Liberation Sans&quot;, sans-serif" font-size="61.50" fill="#6fa8dc" stroke="#ffffff" stroke-width="0.9">Z=8 (O)</text>
<text transform="translate(1524.98 1636.20) scale(1 1.0350)" font-family="&quot;Liberation Sans&quot;, sans-serif" font-size="72.00" fill="#000" stroke="#ffffff" stroke-width="0.9">d</text>
<text x="2312.66" y="1639.00" font-family="&quot;Liberation Sans&quot;, sans-serif" font-size="74.00" fill="#000" stroke="#ffffff" stroke-width="0.9">e</text>
<text x="1494.58" y="931.80" font-family="&quot;Liberation Serif&quot;, serif" font-size="113.00" fill="#000">Φ</text>
<text transform="translate(1580.97 895.30) scale(1 1.0800)" font-family="&quot;Liberation Sans&quot;, sans-serif" font-size="48.00" fill="#000">3/2</text>
<rect x="1582" y="997.5" width="24.5" height="7" fill="#00e81a"/>
<text transform="translate(1621.97 1023.50) scale(1 1.0350)" font-family="&quot;Liberation Sans&quot;, sans-serif" font-size="60.80" fill="#00e81a" stroke="#ffffff" stroke-width="0.9">55 pm</text>
<rect x="1582" y="1071.9" width="24.5" height="7" fill="#000000"/>
<text transform="translate(1620.11 1097.40) scale(1 1.0350)" font-family="&quot;Liberation Sans&quot;, sans-serif" font-size="60.80" fill="#000000" stroke="#ffffff" stroke-width="0.9">65 pm</text>
<rect x="1582" y="1145.5" width="24.5" height="7" fill="#0070c0"/>
<text transform="translate(1620.08 1169.40) scale(1 1.0350)" font-family="&quot;Liberation Sans&quot;, sans-serif" font-size="60.80" fill="#0070c0" stroke="#ffffff" stroke-width="0.9">75 pm</text>
<rect x="1582" y="1215.7" width="24.5" height="7" fill="#ff0000"/>
<text transform="translate(1620.94 1241.00) scale(1 1.0500)" font-family="&quot;Liberation Sans&quot;, sans-serif" font-size="61.70" fill="#ff0000" stroke="#ffffff" stroke-width="0.9">Exper</text>
<polyline points="1586.0,1623.37 1590.8,1622.78 1598.2,1621.70 1605.8,1620.42 1613.2,1618.91 1620.8,1617.14 1628.2,1615.08 1635.8,1612.67 1643.2,1609.87 1650.8,1606.64 1658.2,1602.92 1665.8,1598.65 1673.2,1593.78 1680.8,1588.23 1688.2,1581.96 1695.8,1574.88 1703.2,1566.92 1710.8,1558.03 1718.2,1548.12 1725.8,1537.13 1733.2,1525.00 1740.8,1511.67 1748.2,1497.09 1755.8,1481.21 1763.2,1464.00 1770.8,1445.43 1778.2,1425.51 1785.8,1404.23 1793.2,1381.62 1800.8,1357.73 1808.2,1332.62 1815.8,1306.38 1823.2,1279.11 1830.8,1250.96 1838.2,1222.08 1845.8,1192.64 1853.2,1162.85 1860.8,1132.94 1868.2,1103.15 1875.8,1073.73 1883.2,1044.97 1890.8,1017.15 1898.2,990.57 1905.8,965.53 1913.2,942.32 1920.8,921.25 1928.2,902.60 1935.8,886.66 1943.2,873.69 1950.8,863.97 1958.2,857.78 1965.8,855.50 1973.2,857.78 1980.8,863.97 1988.2,873.69 1995.8,886.66 2003.2,902.60 2010.8,921.25 2018.2,942.32 2025.8,965.53 2033.2,990.57 2040.8,1017.15 2048.2,1044.97 2055.8,1073.73 2063.2,1103.15 2070.8,1132.94 2078.2,1162.85 2085.8,1192.64 2093.2,1222.08 2100.8,1250.96 2108.2,1279.11 2115.8,1306.38 2123.2,1332.62 2130.8,1357.73 2138.2,1381.62 2145.8,1404.23 2153.2,1425.51 2160.8,1445.43 2168.2,1464.00 2175.8,1481.21 2183.2,1497.09 2190.8,1511.67 2198.2,1525.00 2205.8,1537.13 2213.2,1548.12 2220.8,1558.03 2228.2,1566.92 2235.8,1574.88 2243.2,1581.96 2250.8,1588.23 2258.2,1593.78 2265.8,1598.65 2273.2,1602.92 2280.8,1606.64 2288.2,1609.87 2295.8,1612.67 2303.2,1615.08 2310.8,1617.14 2313.0,1617.70" fill="none" stroke="#ff2020" stroke-width="3.4" stroke-linejoin="round"/>
<polyline points="1586.0,1599.80 1590.8,1599.23 1598.2,1598.26 1605.8,1597.19 1613.2,1596.01 1620.8,1594.71 1628.2,1593.28 1635.8,1591.70 1643.2,1589.95 1650.8,1588.00 1658.2,1585.83 1665.8,1583.41 1673.2,1580.68 1680.8,1577.62 1688.2,1574.15 1695.8,1570.23 1703.2,1565.78 1710.8,1560.72 1718.2,1554.97 1725.8,1548.42 1733.2,1540.97 1740.8,1532.50 1748.2,1522.91 1755.8,1512.05 1763.2,1499.82 1770.8,1486.09 1778.2,1470.76 1785.8,1453.70 1793.2,1434.86 1800.8,1414.15 1808.2,1391.56 1815.8,1367.08 1823.2,1340.75 1830.8,1312.65 1838.2,1282.93 1845.8,1251.77 1853.2,1219.40 1860.8,1186.11 1868.2,1152.25 1875.8,1118.20 1883.2,1084.39 1890.8,1051.27 1898.2,1019.33 1905.8,989.05 1913.2,960.93 1920.8,935.43 1928.2,913.01 1935.8,894.07 1943.2,878.95 1950.8,867.94 1958.2,861.25 1965.8,859.00 1973.2,861.25 1980.8,867.94 1988.2,878.95 1995.8,894.07 2003.2,913.01 2010.8,935.43 2018.2,960.93 2025.8,989.05 2033.2,1019.33 2040.8,1051.27 2048.2,1084.39 2055.8,1118.20 2063.2,1152.25 2070.8,1186.11 2078.2,1219.40 2085.8,1251.77 2093.2,1282.93 2100.8,1312.65 2108.2,1340.75 2115.8,1367.08 2123.2,1391.56 2130.8,1414.15 2138.2,1434.86 2145.8,1453.70 2153.2,1470.76 2160.8,1486.09 2168.2,1499.82 2175.8,1512.05 2183.2,1522.91 2190.8,1532.50 2198.2,1540.97 2205.8,1548.42 2213.2,1554.97 2220.8,1560.72 2228.2,1565.78 2235.8,1570.23 2243.2,1574.15 2250.8,1577.62 2258.2,1580.68 2265.8,1583.41 2273.2,1585.83 2280.8,1588.00 2288.2,1589.95 2295.8,1591.70 2303.2,1593.28 2310.8,1594.71 2313.0,1595.12" fill="none" stroke="#00e000" stroke-width="3.4" stroke-linejoin="round"/>
<polyline points="1586.0,1596.39 1590.8,1596.08 1598.2,1595.51 1605.8,1594.81 1613.2,1593.98 1620.8,1592.98 1628.2,1591.78 1635.8,1590.35 1643.2,1588.64 1650.8,1586.61 1658.2,1584.21 1665.8,1581.38 1673.2,1578.06 1680.8,1574.17 1688.2,1569.64 1695.8,1564.39 1703.2,1558.33 1710.8,1551.38 1718.2,1543.44 1725.8,1534.42 1733.2,1524.22 1740.8,1512.76 1748.2,1499.96 1755.8,1485.73 1763.2,1470.01 1770.8,1452.74 1778.2,1433.90 1785.8,1413.45 1793.2,1391.42 1800.8,1367.83 1808.2,1342.73 1815.8,1316.23 1823.2,1288.44 1830.8,1259.51 1838.2,1229.64 1845.8,1199.03 1853.2,1167.95 1860.8,1136.65 1868.2,1105.45 1875.8,1074.67 1883.2,1044.63 1890.8,1015.69 1898.2,988.20 1905.8,962.49 1913.2,938.89 1920.8,917.74 1928.2,899.30 1935.8,883.84 1943.2,871.58 1950.8,862.69 1958.2,857.30 1965.8,855.50 1973.2,857.30 1980.8,862.69 1988.2,871.58 1995.8,883.84 2003.2,899.30 2010.8,917.74 2018.2,938.89 2025.8,962.49 2033.2,988.20 2040.8,1015.69 2048.2,1044.63 2055.8,1074.67 2063.2,1105.45 2070.8,1136.65 2078.2,1167.95 2085.8,1199.03 2093.2,1229.64 2100.8,1259.51 2108.2,1288.44 2115.8,1316.23 2123.2,1342.73 2130.8,1367.83 2138.2,1391.42 2145.8,1413.45 2153.2,1433.90 2160.8,1452.74 2168.2,1470.01 2175.8,1485.73 2183.2,1499.96 2190.8,1512.76 2198.2,1524.22 2205.8,1534.42 2213.2,1543.44 2220.8,1551.38 2228.2,1558.33 2235.8,1564.39 2243.2,1569.64 2250.8,1574.17 2258.2,1578.06 2265.8,1581.38 2273.2,1584.21 2280.8,1586.61 2288.2,1588.64 2295.8,1590.35 2303.2,1591.78 2310.8,1592.98 2313.0,1593.30" fill="none" stroke="#111111" stroke-width="3.4" stroke-linejoin="round"/>
<polyline points="1586.0,1595.61 1590.8,1595.01 1598.2,1593.92 1605.8,1592.62 1613.2,1591.07 1620.8,1589.24 1628.2,1587.09 1635.8,1584.58 1643.2,1581.64 1650.8,1578.24 1658.2,1574.30 1665.8,1569.77 1673.2,1564.59 1680.8,1558.69 1688.2,1552.00 1695.8,1544.44 1703.2,1535.95 1710.8,1526.46 1718.2,1515.90 1725.8,1504.21 1733.2,1491.33 1740.8,1477.21 1748.2,1461.81 1755.8,1445.11 1763.2,1427.07 1770.8,1407.71 1778.2,1387.03 1785.8,1365.07 1793.2,1341.89 1800.8,1317.55 1808.2,1292.15 1815.8,1265.81 1823.2,1238.66 1830.8,1210.88 1838.2,1182.62 1845.8,1154.11 1853.2,1125.55 1860.8,1097.19 1868.2,1069.25 1875.8,1042.00 1883.2,1015.70 1890.8,990.61 1898.2,966.98 1905.8,945.05 1913.2,925.08 1920.8,907.28 1928.2,891.85 1935.8,878.98 1943.2,868.80 1950.8,861.44 1958.2,856.99 1965.8,855.50 1973.2,856.99 1980.8,861.44 1988.2,868.80 1995.8,878.98 2003.2,891.85 2010.8,907.28 2018.2,925.08 2025.8,945.05 2033.2,966.98 2040.8,990.61 2048.2,1015.70 2055.8,1042.00 2063.2,1069.25 2070.8,1097.19 2078.2,1125.55 2085.8,1154.11 2093.2,1182.62 2100.8,1210.88 2108.2,1238.66 2115.8,1265.81 2123.2,1292.15 2130.8,1317.55 2138.2,1341.89 2145.8,1365.07 2153.2,1387.03 2160.8,1407.71 2168.2,1427.07 2175.8,1445.11 2183.2,1461.81 2190.8,1477.21 2198.2,1491.33 2205.8,1504.21 2213.2,1515.90 2220.8,1526.46 2228.2,1535.95 2235.8,1544.44 2243.2,1552.00 2250.8,1558.69 2258.2,1564.59 2265.8,1569.77 2273.2,1574.30 2280.8,1578.24 2288.2,1581.64 2295.8,1584.58 2303.2,1587.09 2310.8,1589.24 2313.0,1589.82" fill="none" stroke="#2020ff" stroke-width="3.4" stroke-linejoin="round"/>
<rect x="2048.4" y="1180.6" width="85" height="87" fill="none" stroke="#ff2020" stroke-width="3.8"/>
<rect x="2109.3" y="861.9" width="224.3" height="243.4" fill="none" stroke="#ff2020" stroke-width="3.8"/>
<line x1="2047.6" y1="1171" x2="2108.6" y2="862" stroke="#ff2020" stroke-width="3.8" stroke-dasharray="18 12.5"/>
<line x1="2130.7" y1="1171.5" x2="2332" y2="1106" stroke="#ff2020" stroke-width="3.8" stroke-dasharray="18 12.5"/>
<line x1="2195.1" y1="863.5" x2="2234.7" y2="1103.5" stroke="#00ee00" stroke-width="6.5"/>
<line x1="2236.0" y1="863.5" x2="2278.0" y2="1103.5" stroke="#ff0000" stroke-width="6.5"/>
<line x1="2231.1" y1="863.5" x2="2273.4" y2="1103.5" stroke="#000000" stroke-width="6.5"/>
<line x1="2263.5" y1="863.5" x2="2310.3" y2="1103.5" stroke="#0000ff" stroke-width="6.5"/></g></svg>
</body></html>
